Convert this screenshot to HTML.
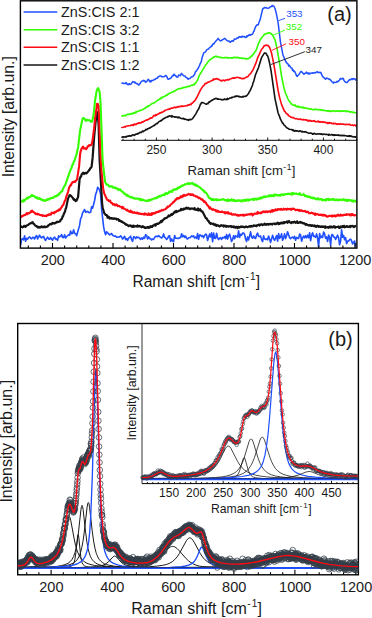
<!DOCTYPE html><html><head><meta charset="utf-8"><style>html,body{margin:0;padding:0;background:#fff;}svg{display:block}</style></head><body>
<svg width="372" height="618" viewBox="0 0 372 618">
<rect width="372" height="618" fill="#fff"/>
<g clip-path="url(#clipa)">
<path d="M20.6,245.1 21.6,239.7 22.6,238.5 23.6,239.9 24.6,235.8 25.6,241.3 26.6,238.3 27.6,239.2 28.6,237.5 29.6,236.9 30.6,238.3 31.6,238.9 32.6,237.3 33.6,237.5 34.6,239.0 35.6,236.5 36.6,235.5 37.6,238.9 39.6,235.2 40.6,237.2 41.6,237.9 42.6,236.8 43.6,236.4 44.6,239.1 45.6,240.5 46.6,238.4 47.6,237.2 48.6,238.9 49.6,239.3 50.6,237.5 51.6,239.1 52.6,240.1 53.6,238.0 54.6,237.0 55.6,239.1 56.6,238.9 57.6,240.3 58.6,235.9 59.6,236.9 60.6,236.4 61.6,234.5 62.6,237.4 63.6,237.6 64.6,234.8 65.6,238.0 66.6,236.5 68.6,234.8 69.6,235.2 70.6,231.0 71.6,233.7 72.6,233.4 73.6,229.7 74.6,233.5 75.6,233.5 76.6,235.7 79.6,225.4 80.6,218.7 81.6,216.9 82.6,212.8 84.6,209.5 85.6,212.1 86.6,211.9 87.6,211.3 88.6,212.4 89.6,212.6 90.6,212.3 91.6,206.7 92.6,208.2 94.6,200.5 95.6,194.5 96.6,191.9 97.6,187.3 98.6,188.4 99.6,190.2 100.6,194.1 101.6,208.8 103.6,226.7 104.6,231.8 105.6,234.7 106.6,231.7 109.6,234.9 111.6,233.5 112.6,235.3 114.6,236.2 115.6,235.9 116.6,237.2 119.6,236.9 120.6,235.9 121.6,237.0 122.6,239.1 124.6,236.3 125.6,239.6 126.6,238.6 127.6,240.5 128.6,238.1 129.6,237.4 130.6,236.2 131.6,239.7 132.6,241.3 133.6,236.9 134.6,237.1 135.6,238.7 136.6,236.8 137.6,237.6 138.6,237.4 139.6,238.2 140.6,239.4 141.6,237.9 142.6,239.2 143.6,237.2 144.6,238.3 145.6,234.6 146.6,235.6 147.6,239.0 148.6,236.8 149.6,238.7 150.6,238.6 151.6,239.9 152.6,239.0 153.6,239.4 154.6,237.5 155.6,236.4 156.6,236.3 157.6,236.7 158.6,235.6 159.6,236.6 161.6,238.0 162.6,236.9 163.6,233.9 164.6,237.3 165.6,237.9 166.6,239.5 167.6,238.5 168.6,236.1 169.6,235.9 170.6,241.4 171.6,238.9 172.6,241.1 173.6,241.7 174.6,235.6 175.6,238.1 178.6,238.4 179.6,237.6 180.6,237.6 181.6,233.8 182.6,236.8 183.6,235.4 184.6,237.4 185.6,236.0 186.6,238.5 187.6,239.0 188.6,237.8 189.6,237.8 190.6,237.3 191.6,235.9 192.6,236.6 193.6,235.8 194.6,238.0 195.6,237.0 196.6,238.5 197.6,233.6 198.6,239.3 199.6,235.0 200.6,235.1 201.6,236.5 202.6,235.5 203.6,237.8 204.6,235.5 205.6,234.2 206.6,234.8 207.6,240.4 209.6,234.0 210.6,237.0 211.6,232.9 212.6,241.7 213.6,233.0 214.6,238.3 215.6,238.4 216.6,233.2 217.6,237.8 218.6,239.6 219.6,238.2 220.6,237.7 221.6,239.5 222.6,237.4 223.6,237.9 224.6,236.7 225.6,238.7 226.6,234.5 227.6,239.1 228.6,235.7 229.6,234.1 231.6,241.5 232.6,239.5 233.6,235.6 234.6,238.8 235.6,235.8 237.6,237.2 238.6,230.9 239.6,237.5 240.6,234.3 241.6,235.2 242.6,233.1 243.6,233.0 244.6,234.5 245.6,239.2 246.6,241.4 247.6,236.9 248.6,239.9 250.6,231.9 251.6,237.4 252.6,238.2 253.6,235.9 254.6,237.8 255.6,238.5 256.6,234.7 257.6,233.1 258.6,236.4 259.6,236.4 260.6,236.1 261.6,239.6 262.6,241.6 263.6,235.9 264.6,238.9 265.6,239.5 266.6,238.9 267.6,239.8 268.6,236.0 270.6,242.4 272.6,235.3 273.6,238.6 274.6,240.4 276.6,235.5 277.6,241.2 278.6,233.6 279.6,238.4 280.6,237.0 281.6,233.8 282.6,240.3 283.6,237.9 284.6,233.8 285.6,238.6 286.6,235.8 287.6,231.8 289.6,237.7 290.6,238.7 291.6,237.4 292.6,237.1 293.6,238.3 294.6,236.4 295.6,240.2 296.6,237.4 298.6,238.5 299.6,234.1 300.6,235.1 301.6,241.2 302.6,237.9 303.6,236.2 304.6,237.9 305.6,235.7 306.6,237.8 307.6,235.2 308.6,237.8 309.6,232.7 310.6,240.6 311.6,235.6 312.6,232.7 313.6,236.4 314.6,236.0 315.6,237.4 316.6,233.9 317.6,238.1 318.6,247.0 319.6,233.5 320.6,237.9 321.6,236.1 322.6,237.5 323.6,232.0 324.6,233.8 325.6,238.3 326.6,236.9 327.6,241.5 328.6,235.1 329.6,237.5 330.6,245.1 331.6,234.9 332.6,234.5 333.6,237.0 334.6,237.0 335.6,239.5 337.6,235.2 338.6,237.9 339.6,244.8 340.6,241.1 341.6,229.9 342.6,237.3 343.6,235.4 344.6,239.7 345.6,237.6 346.6,243.6 347.6,241.1 348.6,241.2 349.6,239.6 350.6,239.3 351.6,240.8 352.6,243.9 354.6,241.0 355.6,246.6" fill="none" stroke="#1f4fff" stroke-width="1.6" stroke-linejoin="round"/>
<path d="M20.6,226.7 21.1,226.9 21.6,226.5 22.6,227.3 23.1,226.8 23.6,226.9 24.1,225.8 24.6,226.5 25.1,225.9 25.6,226.8 27.1,225.3 28.1,225.0 29.1,223.9 31.6,222.7 32.1,223.1 32.6,222.2 33.1,223.4 33.6,223.5 35.1,225.4 36.1,226.1 36.6,226.0 37.6,227.4 38.6,226.8 39.1,227.5 39.6,227.1 40.6,227.4 41.6,226.4 42.6,227.3 43.1,226.8 44.1,227.2 44.6,226.5 45.1,227.2 45.6,227.2 47.1,226.4 47.6,226.6 48.1,225.6 48.6,225.2 49.1,225.2 50.1,223.9 51.1,224.3 51.6,224.2 52.1,223.2 52.6,222.9 53.1,223.3 54.1,223.1 55.1,223.3 55.6,222.7 56.1,222.7 56.6,221.9 57.1,221.7 57.6,222.1 58.1,222.1 59.6,221.5 60.1,221.3 60.6,219.8 61.6,219.2 62.1,218.3 62.6,216.4 63.1,216.3 63.6,214.5 65.1,211.2 65.6,208.9 66.1,208.0 68.1,198.4 69.6,195.1 70.1,195.1 71.1,195.8 71.6,196.7 72.6,197.5 73.6,199.5 74.1,199.2 74.6,200.2 75.1,199.8 75.6,201.1 76.6,200.5 78.1,196.9 79.6,179.2 80.6,176.6 81.1,176.6 81.6,174.4 83.1,172.6 83.6,172.9 84.1,174.0 84.6,173.2 85.6,172.8 86.1,173.5 86.6,173.3 88.6,170.9 89.1,169.9 89.6,169.9 90.1,168.4 91.1,167.7 91.6,166.7 92.6,157.9 94.1,137.3 95.6,121.8 97.1,112.1 97.6,113.2 98.6,124.7 99.6,159.9 102.1,203.1 102.6,207.2 104.1,212.7 104.6,213.7 105.1,213.9 105.6,214.9 106.1,215.1 106.6,215.0 107.1,215.7 107.6,217.7 108.1,216.7 108.6,216.6 109.6,218.5 110.1,218.0 110.6,218.3 111.1,218.1 111.6,218.2 112.1,218.8 113.1,218.3 114.1,218.9 114.6,218.4 115.6,218.8 116.1,218.6 116.6,219.6 117.1,219.3 118.1,219.2 118.6,219.6 119.1,221.0 119.6,220.2 120.1,221.0 120.6,220.9 121.6,221.9 122.1,221.6 123.1,222.6 124.6,223.3 125.6,224.6 126.6,224.3 127.1,225.0 128.1,225.5 128.6,226.2 129.1,225.5 129.6,225.7 130.1,225.5 130.6,225.8 131.1,225.7 131.6,226.6 132.6,225.9 133.1,226.9 133.6,225.6 134.1,226.5 134.6,226.6 135.6,226.2 136.6,226.2 137.1,226.7 137.6,225.5 138.1,226.2 138.6,226.5 139.6,225.8 140.1,226.5 140.6,226.4 141.6,227.3 142.6,226.2 143.1,226.9 143.6,226.7 144.6,227.9 145.1,227.4 145.6,228.1 146.6,227.7 147.1,227.1 147.6,227.5 148.1,226.8 148.6,227.8 149.1,227.3 149.6,227.7 150.6,226.1 151.1,227.0 152.1,227.0 152.6,225.7 153.1,225.5 153.6,225.7 154.6,224.6 155.1,224.5 155.6,225.7 156.1,224.2 156.6,223.8 157.6,223.7 158.1,224.0 160.1,222.3 161.1,220.9 161.6,222.0 162.1,220.6 162.6,220.8 163.1,219.9 164.1,219.2 164.6,218.3 165.1,218.5 167.1,217.6 168.1,216.5 168.6,215.4 169.6,216.2 170.1,215.3 170.6,215.3 171.6,214.0 172.1,214.8 172.6,213.8 173.1,214.0 174.6,211.7 175.1,212.3 176.1,210.9 176.6,212.1 178.6,210.8 179.1,210.8 180.1,210.3 180.6,210.4 181.1,208.9 181.6,210.1 182.1,209.3 182.6,209.7 183.1,209.7 183.6,208.7 184.1,209.3 184.6,209.1 185.1,208.4 186.1,208.6 186.6,207.6 187.1,208.3 187.6,208.6 188.6,207.9 189.6,209.2 190.1,209.1 191.1,208.4 191.6,208.7 192.6,208.5 194.1,209.4 194.6,208.1 195.1,209.5 195.6,209.3 196.1,209.8 196.6,209.4 197.6,210.2 198.1,208.5 198.6,210.4 199.6,209.4 200.1,209.2 200.6,210.7 201.1,210.4 201.6,211.5 202.6,211.7 205.6,217.7 206.1,218.4 206.6,218.3 207.6,220.3 208.1,220.9 208.6,221.1 209.6,222.9 210.1,223.1 210.6,223.9 211.1,223.3 212.6,224.0 213.1,224.1 213.6,223.7 214.1,224.7 214.6,225.1 215.1,225.3 215.6,224.5 216.6,225.9 217.1,225.2 217.6,225.4 218.1,225.3 218.6,225.8 219.1,225.9 219.6,226.5 220.1,225.8 220.6,225.8 221.1,225.2 221.6,225.6 222.6,225.7 223.1,225.4 223.6,226.5 224.1,225.6 224.6,226.2 225.1,225.6 226.1,226.8 226.6,225.9 227.1,226.4 227.6,226.3 228.6,226.6 229.1,226.2 229.6,226.4 231.1,226.1 231.6,227.0 232.1,226.4 232.6,227.0 233.1,227.0 233.6,226.5 234.1,227.3 234.6,226.6 235.6,227.6 236.1,226.8 237.1,226.8 237.6,228.1 238.1,227.1 238.6,226.8 239.1,227.6 239.6,227.2 240.1,227.3 241.1,226.4 241.6,227.0 242.6,226.6 243.6,226.8 244.1,227.4 245.1,227.2 246.1,226.4 246.6,227.0 247.6,227.2 248.1,226.7 249.1,226.7 249.6,226.2 250.1,226.2 250.6,226.7 251.1,225.9 252.1,226.5 253.1,226.2 253.6,225.5 254.1,225.8 254.6,225.6 255.1,225.9 256.1,225.4 256.6,226.1 257.1,225.5 258.1,224.8 258.6,225.0 259.1,224.7 259.6,225.5 260.6,224.6 261.6,224.2 262.6,225.1 263.6,224.5 264.1,224.5 264.6,223.7 265.1,224.7 265.6,224.2 266.1,224.8 266.6,224.2 267.1,224.0 267.6,224.3 268.1,223.9 268.6,224.7 269.1,224.2 270.1,224.1 270.6,223.8 271.1,224.1 271.6,224.0 272.1,224.6 272.6,223.8 273.1,223.9 273.6,223.6 274.6,223.6 275.1,224.2 275.6,223.6 276.1,224.0 276.6,223.4 277.1,223.3 277.6,222.7 278.1,223.7 278.6,224.2 279.1,223.2 279.6,223.8 280.6,222.9 281.1,223.4 281.6,222.7 282.1,222.8 282.6,223.4 283.6,222.2 284.1,223.2 284.6,222.1 285.1,222.4 286.1,222.2 287.1,221.5 287.6,222.8 288.1,221.7 288.6,221.6 289.1,221.0 289.6,222.0 290.1,222.5 290.6,222.5 291.1,223.1 292.1,222.1 292.6,222.0 293.1,222.6 293.6,222.0 294.1,222.1 294.6,221.7 295.6,222.9 296.1,222.1 296.6,222.3 297.1,221.3 297.6,222.8 298.1,222.4 298.6,222.9 300.1,221.9 300.6,222.7 301.6,222.3 302.1,222.8 302.6,222.8 303.1,223.5 304.1,223.1 304.6,223.7 305.1,223.8 305.6,224.8 306.1,224.2 306.6,224.1 307.1,224.8 308.6,225.4 309.1,225.0 309.6,225.5 310.1,225.6 310.6,225.2 311.6,225.9 312.1,225.2 314.1,226.2 314.6,225.5 315.1,226.2 316.1,226.8 316.6,226.0 317.6,225.7 318.1,226.5 318.6,226.9 319.1,226.1 319.6,226.6 320.6,226.9 321.1,226.4 321.6,226.9 322.6,226.4 323.1,226.9 323.6,227.0 324.1,226.5 325.1,227.8 325.6,226.5 326.1,227.4 326.6,227.5 327.1,227.2 327.6,227.4 328.1,227.2 328.6,227.8 329.1,226.9 329.6,227.2 330.1,226.5 330.6,227.4 331.1,227.4 331.6,226.6 332.6,227.4 334.1,226.1 335.1,227.8 335.6,226.9 336.1,227.2 336.6,227.1 337.1,226.9 338.1,226.9 338.6,226.5 339.1,227.8 339.6,227.9 340.1,226.9 340.6,227.5 341.1,226.4 342.1,227.1 342.6,226.2 343.1,226.1 343.6,226.8 344.1,225.8 344.6,227.3 345.6,226.7 346.1,226.8 346.6,226.2 347.1,226.2 347.6,226.9 348.1,226.9 349.6,226.3 350.1,227.1 350.6,225.9 351.6,226.3 352.1,225.9 353.1,226.1 353.6,226.9 354.1,227.2 355.1,225.9 356.1,226.4" fill="none" stroke="#141414" stroke-width="2.2" stroke-linejoin="round"/>
<path d="M20.6,216.8 21.1,217.2 22.1,215.9 22.6,216.1 23.6,215.3 24.1,215.1 24.6,215.3 25.1,215.0 25.6,214.3 26.1,214.1 26.6,213.2 27.1,214.3 27.6,213.3 28.1,213.6 28.6,213.0 29.1,213.3 30.1,212.2 30.6,212.4 31.1,211.2 31.6,211.9 32.1,210.6 33.1,211.9 34.6,212.7 35.6,214.0 36.1,214.1 37.1,213.6 37.6,214.5 38.1,213.8 38.6,214.3 39.1,214.3 39.6,215.0 41.1,215.1 41.6,214.9 42.6,215.9 43.1,215.4 43.6,215.8 44.1,215.5 44.6,216.0 45.6,215.9 46.1,215.7 46.6,216.1 47.1,215.2 48.1,214.8 48.6,215.1 49.1,214.4 49.6,214.3 50.1,214.7 50.6,214.7 51.1,214.2 51.6,212.7 52.1,213.2 53.1,212.6 53.6,212.6 54.1,213.3 54.6,212.2 55.1,211.8 55.6,212.1 57.1,210.9 58.1,210.8 58.6,209.6 59.1,209.4 59.6,210.1 60.1,209.7 61.1,207.7 61.6,207.3 62.1,206.1 62.6,205.5 63.1,205.3 64.6,201.3 65.6,199.6 66.1,197.1 68.1,191.8 69.1,187.7 70.1,185.8 70.6,184.9 71.1,185.2 71.6,183.2 72.1,183.0 72.6,182.1 73.1,182.3 74.6,181.5 75.1,181.9 75.6,181.0 76.1,180.8 77.1,179.1 79.1,166.4 80.1,154.2 80.6,151.4 81.6,148.7 83.1,146.5 83.6,148.5 84.1,148.1 85.6,148.4 86.1,149.2 87.1,147.9 87.6,146.3 88.6,146.2 89.1,145.1 89.6,145.4 90.1,145.0 90.6,145.3 91.1,145.2 91.6,144.5 92.6,139.9 94.1,128.4 95.1,118.2 97.1,103.7 98.1,104.2 98.6,106.5 100.6,155.5 101.6,172.4 103.1,188.2 104.1,193.1 107.1,199.7 107.6,199.7 108.1,200.1 108.6,200.9 110.1,200.6 110.6,202.5 111.1,202.6 111.6,203.1 112.1,203.0 113.1,204.6 114.1,204.0 115.1,205.5 116.1,204.3 117.1,205.1 117.6,206.1 119.1,205.8 119.6,206.4 121.6,207.0 122.1,208.3 122.6,206.8 123.1,208.1 123.6,207.9 124.1,208.8 124.6,208.7 126.6,210.3 127.1,209.6 127.6,210.7 128.1,210.5 129.1,211.6 129.6,211.6 130.1,212.1 130.6,210.6 131.6,212.2 132.1,211.5 133.1,212.9 133.6,212.7 134.1,212.1 134.6,212.8 135.1,213.0 135.6,212.9 136.6,213.1 137.1,212.6 137.6,213.3 138.1,213.0 138.6,213.6 139.1,213.7 139.6,213.3 140.1,214.0 141.1,213.8 141.6,214.2 142.1,213.9 142.6,214.0 143.6,214.2 144.1,214.7 144.6,213.4 145.1,214.3 145.6,213.6 146.6,214.6 147.1,214.5 147.6,214.9 148.1,214.6 148.6,213.3 149.6,215.0 150.1,214.9 151.1,213.5 151.6,214.9 152.1,213.0 152.6,213.9 153.6,213.6 154.1,212.8 155.1,213.4 156.1,212.1 156.6,212.5 158.1,211.6 158.6,212.0 159.6,210.9 160.1,211.3 161.1,210.9 161.6,209.9 162.6,210.4 163.1,210.3 164.1,209.5 165.6,209.3 166.6,207.7 167.1,207.8 167.6,206.5 168.1,207.0 168.6,206.4 169.6,206.1 170.6,204.5 171.1,204.5 171.6,203.8 172.6,203.2 173.1,202.1 173.6,202.2 174.1,201.9 174.6,200.7 175.1,200.6 175.6,199.3 176.6,199.5 177.1,198.2 177.6,198.4 178.1,198.0 178.6,198.6 179.1,198.4 179.6,197.5 180.1,197.6 180.6,196.3 181.1,197.4 181.6,197.0 182.1,197.2 182.6,195.5 183.1,196.4 183.6,195.9 184.1,194.8 184.6,195.4 185.6,195.6 186.6,194.7 187.1,195.0 188.6,193.9 189.1,194.3 189.6,194.3 190.1,194.9 190.6,194.1 191.1,195.0 191.6,194.6 192.1,195.1 192.6,194.4 193.6,195.1 194.1,195.8 194.6,195.7 196.1,196.7 197.1,196.5 197.6,197.1 198.1,197.2 198.6,198.1 199.1,197.6 200.1,198.1 200.6,199.0 201.6,199.6 202.1,199.2 202.6,199.5 203.1,200.7 204.1,202.0 204.6,201.2 205.1,202.3 205.6,202.2 207.1,205.1 207.6,205.2 208.1,205.7 209.6,208.6 210.1,207.3 210.6,208.2 211.1,208.4 211.6,209.3 212.1,209.3 212.6,210.0 213.1,209.2 213.6,209.8 214.6,209.7 215.1,210.3 215.6,210.0 216.1,211.5 217.1,210.5 217.6,210.8 218.1,211.9 218.6,211.1 219.1,211.7 220.1,212.1 221.6,211.7 222.1,211.3 222.6,212.1 223.1,212.3 224.1,212.4 224.6,212.0 225.1,213.5 225.6,212.5 226.1,212.4 227.6,213.4 228.1,212.2 228.6,213.5 229.1,213.1 230.1,213.9 230.6,213.9 231.1,213.4 231.6,213.8 232.1,214.7 233.6,214.3 234.1,214.8 235.6,214.3 236.1,215.0 236.6,215.0 237.1,215.4 237.6,214.8 238.1,215.7 238.6,215.0 239.1,215.7 240.6,214.8 241.1,215.1 241.6,215.1 242.1,215.5 243.1,214.5 244.1,215.8 244.6,215.6 245.1,214.7 246.1,215.0 246.6,214.5 247.6,214.6 248.1,214.2 249.6,214.5 250.1,213.9 250.6,214.4 251.1,213.9 252.1,213.7 252.6,215.6 253.1,214.5 253.6,214.4 254.6,213.6 256.6,213.6 257.1,213.8 257.6,211.9 258.6,213.2 259.1,212.7 259.6,212.7 260.1,213.3 260.6,212.7 261.1,213.2 261.6,212.4 262.1,212.5 263.1,211.4 263.6,212.0 264.1,212.1 265.1,211.3 265.6,212.1 267.1,211.3 267.6,212.1 269.1,211.2 269.6,211.3 270.6,212.1 271.1,210.9 272.1,210.0 272.6,211.8 273.1,210.1 273.6,210.8 274.1,210.6 274.6,210.8 275.1,209.8 275.6,209.4 276.1,210.1 277.1,210.3 277.6,209.1 278.1,209.5 278.6,209.5 279.1,209.0 280.1,209.8 281.1,208.8 281.6,209.5 282.1,209.7 283.1,209.6 283.6,208.6 284.1,209.4 284.6,209.4 285.1,209.0 285.6,209.1 286.1,208.8 286.6,209.6 287.6,208.7 288.1,209.1 289.1,209.3 289.6,208.7 290.1,208.7 291.1,209.9 292.1,208.5 292.6,209.2 293.6,208.5 295.6,210.1 296.6,210.0 297.1,209.6 298.1,210.0 298.6,210.6 299.1,209.9 299.6,210.0 300.1,210.9 301.1,210.3 303.1,211.3 304.6,211.1 305.1,210.8 306.1,212.2 307.1,211.7 307.6,212.0 308.1,211.9 309.1,213.3 310.6,213.2 311.6,212.6 312.1,213.2 312.6,213.1 313.1,213.7 314.1,213.4 314.6,213.9 315.1,215.0 315.6,213.6 316.1,214.5 317.6,214.1 319.1,215.0 320.1,214.9 320.6,214.6 321.1,215.1 322.1,214.7 322.6,215.6 323.1,215.0 323.6,214.9 324.1,215.5 324.6,214.8 325.1,215.6 325.6,215.9 326.1,215.6 326.6,215.9 327.1,216.7 328.6,216.2 329.1,215.8 331.1,216.0 331.6,215.6 332.1,216.6 332.6,215.5 333.6,216.2 334.6,215.4 335.1,215.7 335.6,216.4 336.6,215.4 337.1,215.7 338.1,214.6 338.6,215.4 339.6,215.7 340.6,214.6 341.1,215.6 341.6,215.1 342.6,215.5 344.1,214.7 345.1,214.9 345.6,214.7 346.1,215.0 346.6,214.1 347.6,214.8 349.1,214.3 350.1,215.4 350.6,214.4 351.1,215.3 351.6,214.2 352.1,214.9 352.6,214.1 353.1,215.1 354.1,215.1 354.6,215.5 356.1,214.9" fill="none" stroke="#ff0a14" stroke-width="2.1" stroke-linejoin="round"/>
<path d="M20.6,202.2 21.1,201.5 22.1,201.5 22.6,200.5 23.1,201.6 23.6,200.0 24.1,200.2 24.6,200.9 25.1,199.5 26.1,198.8 26.6,198.8 27.1,197.5 28.1,198.4 29.1,197.0 29.6,197.0 31.1,196.2 31.6,195.1 32.1,195.8 32.6,195.2 33.1,196.0 34.1,196.0 34.6,196.7 35.1,196.6 35.6,197.7 36.1,197.4 36.6,198.0 37.1,197.3 37.6,198.6 38.1,198.0 38.6,198.8 39.1,198.7 39.6,198.1 40.1,198.9 40.6,198.7 41.6,200.0 42.1,199.9 42.6,200.3 43.1,199.6 43.6,200.3 44.6,200.9 45.1,200.3 45.6,200.7 46.1,200.5 46.6,199.6 47.1,199.6 47.6,200.0 48.1,199.1 48.6,198.8 49.1,199.4 50.1,198.6 50.6,198.5 51.6,197.9 52.1,197.7 53.1,198.0 53.6,197.1 54.6,196.7 55.1,196.0 55.6,196.4 56.1,196.4 56.6,195.4 57.1,195.8 57.6,195.0 58.1,195.3 58.6,195.0 59.6,193.0 60.1,193.2 61.1,191.7 62.1,191.3 63.6,187.4 64.1,187.0 64.6,185.7 65.1,185.4 70.6,169.6 71.1,169.0 72.6,164.4 73.1,164.2 73.6,162.2 74.1,161.0 74.6,160.4 75.6,156.8 76.1,155.9 78.1,147.4 80.1,130.4 82.6,118.4 83.1,117.9 83.6,118.5 84.1,118.3 84.6,118.7 85.6,120.7 86.1,120.4 86.6,120.6 87.1,119.6 87.6,120.2 89.1,120.1 89.6,120.7 90.1,120.5 90.6,121.7 91.1,121.2 91.6,121.7 92.1,121.6 93.6,114.6 95.1,100.3 96.6,91.0 97.1,89.6 98.1,88.2 99.6,91.7 100.6,103.5 102.6,160.7 105.1,182.1 106.6,184.7 107.1,184.6 108.1,184.8 109.1,186.5 109.6,186.6 110.6,186.1 111.1,186.5 111.6,186.2 112.1,186.3 112.6,187.5 113.1,187.1 113.6,187.4 114.1,187.3 114.6,188.1 115.1,188.3 115.6,187.6 116.6,188.1 117.1,189.1 117.6,189.3 118.1,188.9 118.6,190.2 119.1,189.5 120.1,189.2 120.6,190.3 121.1,190.8 121.6,190.8 122.6,192.2 123.1,192.1 124.1,193.6 125.1,193.5 126.6,195.7 127.1,195.0 127.6,194.9 128.1,196.0 128.6,196.3 129.1,196.3 129.6,196.9 130.1,197.0 130.6,197.5 131.1,196.8 132.1,197.5 132.6,197.4 133.1,198.2 134.1,198.0 134.6,198.7 135.1,198.4 135.6,198.7 136.6,198.5 137.6,198.7 138.1,198.4 139.1,199.4 140.1,198.8 140.6,200.3 141.1,199.0 141.6,199.8 142.6,200.3 143.1,199.6 143.6,200.0 144.1,200.0 144.6,200.7 145.1,200.5 146.1,200.7 146.6,201.3 147.1,200.8 147.6,200.9 148.1,200.1 148.6,200.7 149.1,199.9 149.6,200.7 151.1,199.4 151.6,199.7 152.1,199.6 152.6,199.1 154.1,198.5 155.1,198.3 155.6,198.5 156.6,197.3 157.1,197.9 158.1,196.7 158.6,197.0 159.1,196.2 159.6,195.9 160.1,195.7 160.6,196.5 161.1,195.7 162.6,194.9 163.6,194.9 164.1,195.2 164.6,193.9 165.1,194.6 165.6,194.1 166.1,192.9 166.6,193.8 167.1,193.9 168.6,192.6 169.1,191.6 169.6,192.3 170.6,191.3 171.1,191.5 171.6,191.0 172.1,191.9 172.6,190.3 173.1,190.2 173.6,189.4 174.1,189.9 174.6,189.9 175.6,189.1 176.1,189.4 176.6,188.9 177.1,189.1 178.1,187.4 178.6,187.8 179.1,187.2 179.6,187.7 180.1,186.8 181.1,186.5 181.6,185.6 182.6,186.0 183.1,185.2 184.1,184.9 184.6,184.4 185.6,184.5 186.1,184.0 187.1,183.7 188.1,183.0 188.6,184.1 189.6,183.2 190.1,183.6 191.1,183.7 192.1,182.9 192.6,183.2 193.6,184.5 194.1,184.8 194.6,184.3 195.1,184.4 196.1,185.8 196.6,184.9 197.1,185.8 198.1,186.2 199.6,187.4 200.1,187.2 201.1,188.8 203.1,190.2 203.6,191.3 204.1,190.9 205.1,192.4 206.1,192.7 208.1,196.0 208.6,197.3 209.6,198.1 210.1,198.1 210.6,198.9 211.1,199.1 211.6,199.9 212.1,198.9 213.1,200.1 213.6,199.2 214.1,199.9 214.6,199.9 215.1,199.8 215.6,199.4 216.1,199.8 216.6,199.2 217.1,200.3 217.6,199.6 218.1,199.9 220.1,200.0 220.6,199.7 221.1,199.8 221.6,199.4 223.6,199.4 224.6,200.2 225.6,199.9 226.6,200.3 227.1,201.2 227.6,199.6 228.1,200.3 228.6,199.7 229.1,200.8 229.6,200.2 231.1,200.6 231.6,199.2 232.6,200.5 233.1,199.9 233.6,200.7 234.1,201.0 234.6,200.0 236.1,201.3 237.1,200.9 237.6,200.2 238.6,200.7 239.1,200.4 239.6,200.8 240.6,200.4 241.1,201.4 241.6,200.5 242.1,201.3 242.6,200.4 243.1,200.5 243.6,200.0 244.1,200.2 244.6,201.0 245.6,199.5 246.1,200.8 246.6,199.8 247.6,200.1 248.1,199.3 248.6,200.6 249.1,200.4 249.6,199.7 250.1,199.9 251.1,199.4 251.6,199.5 252.1,199.0 252.6,199.3 253.1,199.2 253.6,200.1 254.1,198.7 254.6,199.7 256.1,198.7 256.6,199.6 257.1,199.3 257.6,198.6 258.1,198.5 258.6,198.5 259.1,199.1 259.6,197.9 260.6,198.5 261.1,197.4 262.1,198.2 262.6,197.4 263.1,197.4 263.6,196.7 264.1,197.3 264.6,196.6 265.6,196.9 266.1,196.4 266.6,196.8 267.6,196.4 268.1,196.5 269.1,195.1 269.6,196.2 270.1,196.1 271.1,195.3 271.6,196.1 272.1,195.4 273.1,195.3 273.6,196.4 274.6,194.4 275.1,195.3 276.1,194.6 276.6,195.3 277.1,195.0 277.6,195.5 278.1,195.0 278.6,195.5 279.6,195.0 280.6,195.6 281.6,194.2 282.1,194.7 282.6,194.7 283.1,195.1 283.6,194.4 284.1,194.9 284.6,194.3 286.6,194.0 287.1,194.2 288.1,193.5 288.6,193.9 289.6,193.7 290.1,194.0 290.6,194.0 291.1,194.5 291.6,193.3 292.1,194.6 292.6,192.9 293.1,193.2 293.6,194.0 294.1,193.5 294.6,193.8 296.1,193.4 297.6,194.2 298.6,193.9 299.1,194.5 299.6,193.2 300.6,194.7 302.1,195.0 303.1,194.8 303.6,194.1 305.1,196.2 305.6,195.6 306.6,196.4 307.1,196.0 308.1,197.0 308.6,196.8 309.1,197.1 309.6,196.5 311.1,198.1 311.6,197.5 312.1,197.5 312.6,197.7 313.1,198.4 313.6,197.7 314.1,198.4 314.6,198.3 315.1,198.6 315.6,198.4 316.6,199.4 317.1,198.9 317.6,198.9 318.1,198.1 318.6,199.4 319.1,199.0 319.6,199.5 321.6,198.9 322.1,200.3 322.6,199.9 324.1,200.1 324.6,199.9 325.1,200.0 325.6,200.6 326.1,199.0 326.6,199.8 327.1,199.5 327.6,199.7 328.1,198.7 329.1,200.1 329.6,199.3 330.1,200.0 330.6,199.4 331.1,199.7 331.6,199.2 332.1,199.5 332.6,199.2 333.1,200.0 333.6,199.1 334.1,199.9 334.6,199.6 335.1,199.7 335.6,200.3 336.1,199.7 336.6,199.5 337.6,200.1 338.1,199.6 338.6,200.5 339.1,199.9 340.1,199.5 341.6,200.2 342.6,199.6 343.1,199.8 343.6,199.1 344.1,200.4 345.1,199.9 345.6,200.3 346.1,199.6 346.6,200.8 347.1,200.1 347.6,200.0 348.1,201.0 348.6,199.9 349.1,200.5 349.6,200.0 351.1,200.3 351.6,201.1 352.1,201.0 352.6,200.4 353.1,201.7 353.6,200.8 354.6,201.1 355.1,200.6 355.6,201.6 356.1,200.8" fill="none" stroke="#33ff00" stroke-width="2.1" stroke-linejoin="round"/>
</g>
<defs><clipPath id="clipa"><rect x="20.4" y="0.8" width="336.5" height="247.29999999999998"/></clipPath><clipPath id="clipb"><rect x="17.7" y="323.5" width="340.7" height="251.3"/></clipPath></defs>
<path d="M121.5,83.5 122.7,83.0 123.9,83.6 125.1,83.5 125.7,82.6 126.3,82.8 126.9,84.3 127.5,84.1 128.1,84.8 128.7,84.4 129.3,83.5 129.9,84.6 131.1,84.1 131.7,83.0 132.9,81.6 133.5,81.9 134.1,81.8 134.7,82.9 135.3,82.3 135.9,83.3 136.5,83.7 137.1,83.5 137.7,83.7 138.3,85.0 138.9,84.9 140.1,83.6 140.7,82.2 141.9,81.0 143.1,81.1 143.7,80.3 144.3,80.9 144.9,80.9 145.5,82.3 146.7,81.7 147.9,79.6 148.5,79.3 149.7,81.8 150.3,80.9 150.9,81.9 151.5,80.4 152.1,80.6 153.3,80.4 153.9,79.6 155.1,79.4 156.3,78.2 156.9,78.4 157.5,78.0 158.1,77.0 159.9,75.9 161.1,75.9 161.7,76.8 163.5,76.8 164.7,76.5 165.3,75.4 165.9,75.4 167.1,77.0 167.7,78.9 168.3,79.3 168.9,79.1 169.5,78.6 170.1,78.6 170.7,78.3 171.9,76.8 172.5,75.5 173.1,75.8 173.7,74.6 174.3,74.2 174.9,75.4 175.5,75.9 176.1,75.9 176.7,77.1 177.9,77.1 178.5,75.1 179.1,75.3 179.7,75.2 180.3,75.7 181.5,73.4 183.9,75.9 185.1,76.0 185.7,77.3 186.3,77.4 186.9,77.8 188.1,79.3 188.7,78.5 189.9,78.5 191.7,76.7 192.9,76.5 194.7,74.3 195.3,72.0 196.5,70.9 197.7,68.9 198.3,68.3 198.9,66.6 199.5,65.8 200.1,63.8 201.3,61.6 201.9,58.3 203.7,52.9 205.5,51.8 206.7,49.9 207.9,49.2 208.5,49.1 209.7,47.5 210.3,47.0 210.9,47.0 211.5,45.7 212.1,46.0 212.7,44.1 213.3,43.8 213.9,43.9 215.1,41.8 215.7,41.5 216.3,40.4 216.9,40.2 218.1,38.4 219.9,40.6 220.5,40.9 221.1,40.4 221.7,40.4 222.9,39.4 223.5,39.3 224.7,38.2 225.9,39.6 227.7,41.0 228.3,40.9 228.9,41.3 229.5,41.2 230.1,42.3 231.9,40.8 232.5,40.8 233.1,41.3 233.7,40.5 234.3,39.0 234.9,39.2 236.1,38.9 237.3,37.9 237.9,38.2 239.1,36.6 239.7,37.1 240.3,36.8 240.9,37.3 241.5,37.2 242.1,36.1 242.7,36.7 243.3,36.9 243.9,36.5 244.5,36.4 245.1,37.5 245.7,37.6 246.3,37.1 246.9,35.7 247.5,36.4 248.7,35.1 249.3,35.2 249.9,34.6 250.5,35.2 251.7,34.3 252.3,34.3 252.9,33.4 253.5,31.7 254.1,31.1 255.3,27.3 255.9,26.2 256.5,25.7 257.1,24.7 257.7,25.1 258.3,24.6 258.9,22.5 260.1,19.8 262.5,9.5 263.1,8.5 263.7,8.4 264.3,7.5 265.5,7.8 266.1,7.5 267.3,8.3 269.1,8.1 270.3,6.8 271.5,6.5 272.1,5.5 273.9,6.2 275.1,8.7 276.3,13.4 278.1,22.7 280.5,42.3 282.9,54.7 285.9,61.9 286.5,62.4 287.1,63.4 287.7,63.5 288.9,66.1 289.5,65.3 290.7,67.8 291.9,68.0 292.5,70.2 293.1,69.7 293.7,71.5 294.3,71.1 294.9,71.7 296.7,76.1 297.3,76.4 297.9,75.4 298.5,75.1 300.3,72.3 300.9,71.6 301.5,71.4 303.9,74.3 304.5,73.5 305.7,73.2 306.3,72.1 306.9,72.6 307.5,73.7 308.1,72.8 308.7,74.0 309.3,73.2 309.9,74.0 310.5,73.3 311.7,73.1 312.3,72.8 312.9,73.3 314.7,72.5 315.3,73.0 317.1,71.6 317.7,72.4 318.9,72.3 320.1,72.8 320.7,72.4 322.5,76.4 325.5,79.3 326.1,78.2 326.7,78.1 327.3,78.6 327.9,78.5 329.1,79.4 329.7,79.1 332.1,81.9 332.7,82.1 333.3,83.1 333.9,82.1 334.5,82.4 336.3,82.2 336.9,81.3 337.5,82.0 339.3,80.4 340.5,78.3 341.1,79.0 342.3,78.7 342.9,78.2 343.5,79.0 344.1,80.8 345.3,82.0 345.9,82.1 346.5,82.6 347.1,82.6 348.3,80.8 348.9,80.5 349.5,79.6 350.7,79.7 351.3,78.9 351.9,78.8 352.5,79.4 353.1,78.6 353.7,79.0 354.9,78.7 355.5,79.8 356.1,80.3" fill="none" stroke="#1f4fff" stroke-width="1.5" stroke-linejoin="round"/>
<path d="M121.5,115.5 122.0,116.1 122.5,116.1 123.5,115.4 125.0,115.9 125.5,115.4 126.0,115.5 126.5,114.9 127.5,114.3 129.0,114.4 129.5,113.9 130.0,114.3 131.5,113.5 132.0,114.1 133.0,113.0 133.5,112.8 134.0,113.4 134.5,112.6 135.0,112.9 135.5,112.7 136.0,111.6 136.5,112.3 137.5,111.3 138.5,111.3 139.5,110.8 140.0,110.3 140.5,110.6 141.5,110.3 142.0,109.8 143.0,109.6 143.5,109.0 145.5,108.0 146.0,107.1 147.0,107.1 147.5,106.1 148.0,106.0 148.5,106.4 149.0,105.5 150.0,105.2 151.0,104.2 152.5,103.4 153.5,103.3 154.0,102.7 154.5,102.7 156.5,101.0 157.5,100.6 158.0,99.9 158.5,100.0 159.5,99.3 160.5,98.0 161.0,98.7 162.0,97.2 162.5,97.6 163.0,96.9 163.5,97.0 164.0,96.5 164.5,96.5 166.0,95.4 166.5,95.4 167.0,94.5 167.5,94.9 168.5,93.9 169.5,93.3 170.5,93.1 171.0,92.5 171.5,92.5 172.5,92.0 173.0,92.0 173.5,91.3 174.5,91.5 175.0,90.6 176.5,90.1 178.0,88.9 179.5,88.6 180.5,88.8 181.5,88.0 182.0,88.2 182.5,88.1 183.0,87.6 183.5,87.8 184.0,87.4 185.0,87.2 185.5,87.5 186.0,86.9 188.0,86.8 188.5,86.1 189.0,86.5 189.5,86.1 190.5,86.0 191.0,85.4 192.0,85.1 193.0,85.2 194.0,84.1 194.5,84.7 195.0,83.5 195.5,83.2 196.0,82.6 197.5,80.1 199.5,75.0 200.0,74.5 200.5,73.3 202.0,71.2 202.5,69.8 203.5,68.8 204.0,67.6 206.0,64.4 206.5,64.1 207.5,62.4 210.0,59.4 210.5,59.6 211.0,58.9 211.5,58.7 212.0,58.7 212.5,57.8 213.0,57.8 213.5,57.0 214.5,57.1 215.5,56.3 216.0,56.2 216.5,56.7 217.0,56.4 217.5,56.9 218.5,56.9 219.5,57.4 220.5,57.2 221.0,57.6 222.0,57.5 223.5,57.9 224.5,57.6 225.5,57.8 226.0,57.5 227.5,57.6 228.0,57.7 228.5,58.4 229.0,57.7 231.0,57.8 231.5,58.2 232.0,57.7 232.5,58.1 233.5,57.4 235.0,57.3 235.5,57.8 236.5,57.6 237.0,57.2 237.5,57.6 238.0,57.4 238.5,58.2 239.0,57.7 241.5,58.1 242.0,58.5 242.5,58.2 243.5,58.6 244.5,58.3 245.5,58.7 246.0,58.6 246.5,59.1 248.0,58.5 248.5,58.7 250.0,57.2 250.5,57.5 251.0,56.4 251.5,55.9 252.0,55.9 253.0,54.6 253.5,54.4 254.0,53.1 254.5,52.7 255.0,51.7 255.5,51.6 256.0,50.2 256.5,49.5 258.5,43.2 259.5,41.7 260.5,38.9 261.0,38.9 262.0,37.0 263.5,35.8 264.0,34.6 264.5,34.6 265.0,34.0 265.5,34.2 266.5,33.3 267.5,33.5 268.0,32.9 268.5,32.9 270.5,33.1 272.0,34.6 272.5,34.8 275.0,39.8 277.0,48.5 279.5,62.8 281.5,76.0 284.0,88.1 285.5,93.3 286.5,95.2 288.0,99.0 289.0,100.9 289.5,101.2 290.0,102.4 290.5,102.5 291.0,103.5 291.5,103.8 292.5,104.9 293.5,105.3 294.0,105.1 294.5,105.3 295.0,104.9 295.5,106.2 296.5,106.4 297.0,106.0 297.5,107.1 298.0,106.4 298.5,106.9 299.0,106.4 300.0,107.4 300.5,107.4 301.0,107.0 302.0,107.7 302.5,107.1 303.0,107.8 303.5,107.3 304.0,108.0 304.5,107.8 305.0,108.3 305.5,108.0 307.5,108.5 308.0,108.4 309.0,109.0 309.5,108.9 310.0,109.3 311.0,109.3 311.5,108.9 312.5,109.6 314.0,109.7 314.5,109.0 315.0,109.5 316.5,109.2 317.0,109.5 317.5,109.5 318.0,110.1 319.5,109.4 320.5,109.8 321.0,109.7 321.5,110.5 322.0,109.8 323.5,110.4 324.0,110.2 325.5,110.8 326.5,110.8 327.5,111.4 328.0,110.7 329.0,111.4 329.5,110.7 330.0,111.4 330.5,111.4 331.0,111.0 332.0,111.4 332.5,111.0 333.0,111.1 333.5,110.8 335.0,111.0 335.5,111.4 336.5,110.7 337.0,111.2 339.5,110.9 340.0,111.4 342.5,110.9 343.5,111.2 344.0,110.8 345.0,110.9 346.0,111.6 346.5,111.1 347.5,111.1 348.0,111.5 349.5,111.4 350.0,112.3 350.5,111.8 351.5,111.9 352.5,112.4 353.0,112.3 353.5,111.8 354.0,112.7 356.0,112.8 356.5,113.2" fill="none" stroke="#33ff00" stroke-width="1.6" stroke-linejoin="round"/>
<path d="M121.5,126.9 122.0,127.5 123.5,127.2 124.5,126.7 125.0,126.6 125.5,127.0 126.0,126.3 130.5,125.5 131.0,125.0 132.0,125.4 132.5,124.8 133.0,124.8 133.5,125.4 134.0,124.3 134.5,124.0 135.5,124.6 136.0,124.5 136.5,123.6 137.0,123.9 138.5,122.8 139.0,123.4 139.5,122.8 140.0,122.9 140.5,122.7 141.0,123.0 142.0,121.9 143.0,122.1 143.5,121.3 144.5,121.2 145.0,120.6 146.0,120.1 146.5,120.3 147.0,119.9 147.5,120.0 149.0,118.9 149.5,118.9 150.5,117.9 151.0,118.2 151.5,117.8 152.0,117.9 154.0,115.3 155.0,115.9 156.0,114.6 156.5,115.1 157.0,114.6 159.0,113.8 159.5,112.9 160.0,113.1 160.5,112.7 161.0,112.9 161.5,112.1 162.0,112.5 162.5,112.0 163.0,112.0 163.5,111.2 164.0,111.3 164.5,111.0 165.0,110.3 165.5,110.4 167.5,109.4 168.5,109.5 169.5,108.6 170.0,109.1 170.5,108.6 172.0,108.1 172.5,108.2 174.5,107.1 175.5,107.7 176.0,107.2 176.5,107.5 178.0,106.5 179.0,107.0 180.0,106.2 180.5,106.2 181.0,106.6 181.5,106.1 182.0,106.4 182.5,105.9 183.5,106.4 185.5,105.7 187.0,105.8 188.0,104.9 189.0,105.1 189.5,104.8 190.0,104.3 191.0,104.7 191.5,103.4 192.5,103.2 193.0,102.3 195.5,99.9 196.0,98.4 196.5,98.2 200.5,89.9 203.0,86.1 204.5,84.8 205.0,83.6 206.5,83.4 207.0,83.1 207.5,82.2 209.0,82.1 211.0,80.8 212.0,80.6 212.5,80.0 213.0,80.1 213.5,78.9 214.5,79.5 216.5,78.5 217.5,79.5 218.0,78.9 220.5,80.6 221.0,80.3 221.5,80.9 223.5,80.1 224.5,80.9 225.5,80.0 226.0,80.2 227.5,79.5 228.5,80.0 230.0,79.0 231.0,78.8 231.5,78.4 232.5,78.1 233.0,78.4 233.5,77.8 234.0,78.1 235.5,77.9 236.0,77.5 238.0,77.4 239.5,77.8 240.0,78.2 240.5,78.0 241.5,78.7 242.0,78.8 242.5,78.4 243.0,78.6 243.5,78.3 244.0,78.7 245.5,77.6 248.0,76.5 249.0,75.0 250.5,73.7 251.5,72.3 252.0,71.0 252.5,71.0 256.0,62.9 257.5,58.2 261.5,49.5 263.0,47.8 264.0,45.9 264.5,45.5 265.0,45.8 266.0,45.1 267.0,45.5 268.0,45.3 268.5,46.2 269.0,46.5 270.0,48.3 271.5,52.9 274.0,65.2 278.0,90.0 279.5,97.1 281.5,104.4 284.5,111.4 285.0,111.4 286.0,113.2 287.0,113.8 287.5,114.6 288.0,114.4 288.5,115.6 289.5,116.3 290.0,116.4 290.5,117.2 291.5,117.3 292.0,117.6 292.5,117.5 293.0,117.8 293.5,117.6 294.5,118.4 295.5,118.7 296.0,118.5 297.0,118.7 298.5,119.4 299.5,119.1 300.0,119.4 301.0,119.0 301.5,119.5 303.0,119.9 303.5,119.4 305.5,120.1 306.0,119.7 307.5,120.8 308.0,120.1 308.5,121.0 309.5,120.4 310.0,121.1 310.5,120.6 311.0,120.6 311.5,121.2 312.0,121.3 313.5,120.8 314.0,121.3 314.5,120.7 315.5,121.7 316.5,121.8 317.5,121.3 318.0,121.8 318.5,121.2 319.0,121.9 319.5,122.1 320.0,121.6 320.5,122.2 321.5,122.0 322.0,121.6 323.0,122.4 323.5,121.8 324.0,122.2 325.0,122.0 325.5,122.8 326.0,122.6 327.0,122.9 327.5,122.5 328.0,123.6 328.5,122.7 329.0,122.6 329.5,123.1 330.5,122.8 331.0,122.9 331.5,123.4 333.0,123.6 333.5,123.2 334.0,123.8 334.5,123.5 335.0,123.7 335.5,123.4 336.0,123.8 336.5,123.8 337.0,124.4 337.5,123.8 338.0,124.2 338.5,124.0 339.0,124.3 339.5,124.0 340.0,124.1 340.5,123.5 341.5,124.3 343.0,124.1 343.5,124.4 344.0,124.1 345.0,124.6 345.5,124.6 346.0,124.2 347.0,124.5 348.5,124.3 349.0,124.7 349.5,124.4 350.0,124.4 350.5,125.1 351.0,125.3 351.5,125.3 352.5,124.9 353.5,125.6 355.0,125.1 355.5,125.2 356.0,126.1 356.5,125.4" fill="none" stroke="#ff0a14" stroke-width="1.6" stroke-linejoin="round"/>
<path d="M121.5,137.1 122.0,137.3 122.5,136.8 123.0,137.3 123.5,136.7 124.5,137.1 125.5,136.6 126.0,137.1 127.0,136.2 127.5,136.4 128.0,136.1 128.5,136.3 129.0,135.8 129.5,136.1 130.0,135.5 130.5,136.1 131.0,135.8 131.5,135.9 132.5,134.8 133.5,135.0 134.0,135.4 134.5,134.9 135.0,135.0 135.5,134.2 136.5,134.0 137.0,134.2 137.5,133.6 138.0,133.5 138.5,133.7 139.0,132.9 139.5,132.9 140.0,132.4 141.5,132.4 142.5,131.0 143.0,131.5 143.5,131.6 144.0,130.8 145.0,130.5 146.0,129.3 146.5,129.7 147.0,129.6 147.5,128.8 148.0,128.9 149.5,127.8 150.0,128.1 150.5,127.5 153.0,126.1 153.5,125.6 154.0,125.6 154.5,125.1 155.0,125.0 155.5,124.2 156.5,123.6 157.0,123.9 157.5,123.0 158.0,122.8 158.5,122.0 159.0,121.8 159.5,121.3 160.0,121.3 160.5,120.7 161.0,121.0 161.5,120.0 162.0,120.1 163.5,118.7 164.0,118.6 165.0,117.9 165.5,117.9 166.0,117.2 166.5,117.3 167.5,116.9 168.0,116.4 168.5,116.6 169.0,116.1 170.0,115.9 170.5,116.1 171.0,116.3 171.5,117.0 172.0,115.6 172.5,116.6 173.5,116.8 174.0,116.6 175.0,117.2 175.5,116.9 176.5,117.0 177.5,117.6 178.0,117.1 178.5,117.7 179.0,117.0 179.5,117.8 180.0,117.7 180.5,118.3 182.5,118.7 183.0,118.2 183.5,118.9 184.0,118.6 184.5,119.4 185.0,119.1 187.5,120.0 188.0,119.6 188.5,120.3 189.0,119.7 189.5,119.9 190.0,119.2 190.5,119.7 191.5,119.5 192.5,118.7 196.0,113.6 197.5,110.6 199.0,108.3 200.5,104.1 201.0,103.9 201.5,102.5 203.0,102.6 205.5,103.9 206.5,104.2 207.5,103.3 208.0,103.7 209.0,101.8 209.5,102.2 210.5,101.1 211.5,100.7 212.0,100.1 212.5,100.1 213.5,99.3 214.5,98.9 215.0,99.0 216.0,98.2 217.0,99.0 217.5,99.2 218.0,98.7 218.5,99.3 220.5,99.3 221.5,99.8 222.0,99.9 222.5,99.5 224.0,99.6 224.5,98.9 225.5,99.5 226.0,99.6 226.5,99.1 227.0,99.5 227.5,98.4 228.0,99.3 228.5,98.7 229.0,98.7 230.0,98.0 231.0,97.9 231.5,97.4 232.0,97.8 232.5,97.3 234.5,96.7 235.0,96.2 235.5,96.6 236.0,96.0 236.5,96.4 237.0,96.0 237.5,96.2 238.0,96.1 239.0,96.9 239.5,96.4 242.0,97.2 243.0,96.3 243.5,96.8 244.0,96.4 245.0,96.5 245.5,96.4 246.0,95.8 246.5,95.9 248.5,93.6 249.0,92.3 250.0,90.9 252.5,85.2 253.0,82.8 253.5,82.1 255.5,74.8 258.5,67.6 261.5,57.7 264.5,52.9 265.0,53.3 266.0,53.2 267.0,55.3 267.5,55.6 268.5,58.5 269.5,62.7 271.0,70.4 275.0,98.6 278.0,112.5 279.0,115.4 279.5,116.2 280.0,118.1 282.5,123.1 283.0,123.1 284.0,125.2 284.5,125.2 286.5,127.6 287.0,127.7 287.5,128.3 288.5,128.5 289.0,129.3 291.5,129.5 292.5,130.5 293.0,129.6 294.0,131.1 294.5,131.1 295.0,130.5 295.5,130.6 296.0,131.2 296.5,130.7 297.0,131.0 297.5,130.8 298.0,131.2 298.5,131.2 299.0,131.6 299.5,131.0 300.0,130.8 301.0,131.4 301.5,131.3 302.0,132.1 302.5,131.4 304.0,132.1 304.5,131.8 305.0,132.0 305.5,131.6 307.0,132.6 308.5,133.1 310.0,133.2 310.5,133.0 311.5,133.2 312.5,134.1 313.0,133.7 313.5,134.1 314.0,133.4 315.0,133.6 316.0,134.2 318.0,133.7 318.5,134.0 320.0,133.8 320.5,134.1 321.5,133.9 322.0,134.5 322.5,134.2 323.0,134.4 323.5,134.0 324.0,134.2 325.0,134.2 325.5,134.5 326.5,134.3 328.0,134.7 328.5,135.2 329.0,134.2 329.5,135.0 330.5,135.0 332.0,134.4 332.5,135.1 333.5,134.9 334.0,135.4 334.5,134.8 335.5,135.3 336.0,135.1 337.5,135.3 338.0,134.9 338.5,134.9 339.0,135.6 340.5,135.2 341.0,135.8 342.0,135.3 342.5,135.8 343.0,135.3 344.0,135.7 344.5,135.4 345.0,135.8 346.5,135.8 347.0,136.3 348.0,135.9 348.5,136.2 349.5,135.6 350.0,136.5 350.5,135.9 351.0,135.9 351.5,136.5 352.0,136.3 352.5,136.8 353.5,137.0 354.0,136.7 354.5,136.9 355.0,136.6 355.5,137.2 356.5,137.1" fill="none" stroke="#141414" stroke-width="1.6" stroke-linejoin="round"/>
<line x1="121.2" y1="140.3" x2="356.9" y2="140.3" stroke="#000" stroke-width="1"/>
<path d="M123.0,140.3V138.7M134.1,140.3V138.7M145.3,140.3V138.7M156.4,140.3V137.5M167.5,140.3V138.7M178.7,140.3V138.7M189.8,140.3V138.7M200.9,140.3V138.7M212.1,140.3V137.5M223.2,140.3V138.7M234.3,140.3V138.7M245.5,140.3V138.7M256.6,140.3V138.7M267.7,140.3V137.5M278.9,140.3V138.7M290.0,140.3V138.7M301.1,140.3V138.7M312.3,140.3V138.7M323.4,140.3V137.5M334.5,140.3V138.7M345.7,140.3V138.7M356.8,140.3V138.7" stroke="#000" stroke-width="0.9" fill="none"/>
<text x="156.4" y="153.9" font-family="Liberation Sans" font-size="12" text-anchor="middle" fill="#1a1a1a">250</text>
<text x="212.1" y="153.9" font-family="Liberation Sans" font-size="12" text-anchor="middle" fill="#1a1a1a">300</text>
<text x="267.7" y="153.9" font-family="Liberation Sans" font-size="12" text-anchor="middle" fill="#1a1a1a">350</text>
<text x="323.4" y="153.9" font-family="Liberation Sans" font-size="12" text-anchor="middle" fill="#1a1a1a">400</text>
<text x="187.6" y="175.4" font-family="Liberation Sans" font-size="13.2" fill="#1a1a1a">Raman shift [cm<tspan dy="-5.5" dx="0.3" font-size="8.5">-</tspan><tspan dx="0.8" font-size="8.5">1</tspan><tspan dy="5.5" dx="0.3">]</tspan></text>
<text x="286.2" y="16.6" font-family="Liberation Sans" font-size="9.8" fill="#1f4fff">353</text>
<line x1="278.5" y1="20.7" x2="285" y2="18.3" stroke="#1f4fff" stroke-width="0.9"/>
<text x="285.8" y="30.1" font-family="Liberation Sans" font-size="9.8" fill="#33ff00">352</text>
<line x1="272.8" y1="35.4" x2="285" y2="30.1" stroke="#33ff00" stroke-width="0.9"/>
<text x="288.5" y="44.8" font-family="Liberation Sans" font-size="9.8" fill="#ff0a14">350</text>
<line x1="272" y1="50.3" x2="286.1" y2="43.8" stroke="#ff0a14" stroke-width="0.9"/>
<text x="305.5" y="53.3" font-family="Liberation Sans" font-size="9.8" fill="#1a1a1a">347</text>
<line x1="271" y1="64.5" x2="304.9" y2="51.7" stroke="#1a1a1a" stroke-width="0.9"/>
<rect x="20.4" y="0.8" width="336.5" height="247.3" fill="none" stroke="#000" stroke-width="1.4"/>
<path d="M28.3,248.1V245.5M40.4,248.1V245.5M52.5,248.1V243.1M64.6,248.1V245.5M76.7,248.1V245.5M88.8,248.1V245.5M100.9,248.1V245.5M113.0,248.1V243.1M125.1,248.1V245.5M137.2,248.1V245.5M149.3,248.1V245.5M161.4,248.1V245.5M173.5,248.1V243.1M185.6,248.1V245.5M197.7,248.1V245.5M209.8,248.1V245.5M221.9,248.1V245.5M234.0,248.1V243.1M246.1,248.1V245.5M258.2,248.1V245.5M270.3,248.1V245.5M282.4,248.1V245.5M294.5,248.1V243.1M306.6,248.1V245.5M318.7,248.1V245.5M330.8,248.1V245.5M342.9,248.1V245.5M355.0,248.1V243.1" stroke="#000" stroke-width="1.1" fill="none"/>
<text x="52.8" y="264.8" font-family="Liberation Sans" font-size="14.5" text-anchor="middle" fill="#1a1a1a">200</text>
<text x="113.3" y="264.8" font-family="Liberation Sans" font-size="14.5" text-anchor="middle" fill="#1a1a1a">400</text>
<text x="173.8" y="264.8" font-family="Liberation Sans" font-size="14.5" text-anchor="middle" fill="#1a1a1a">600</text>
<text x="234.3" y="264.8" font-family="Liberation Sans" font-size="14.5" text-anchor="middle" fill="#1a1a1a">800</text>
<text x="294.8" y="264.8" font-family="Liberation Sans" font-size="14.5" text-anchor="middle" fill="#1a1a1a">1000</text>
<text x="355.3" y="264.8" font-family="Liberation Sans" font-size="14.5" text-anchor="middle" fill="#1a1a1a">1200</text>
<text x="132.4" y="286.8" font-family="Liberation Sans" font-size="15.6" fill="#1a1a1a">Raman shift [cm<tspan dy="-6.5" dx="0.5" font-size="10">-</tspan><tspan dx="1" font-size="10">1</tspan><tspan dy="6.5" dx="0.3">]</tspan></text>
<text transform="translate(13.9,177.3) rotate(-90)" font-family="Liberation Sans" font-size="15.8" fill="#1a1a1a">Intensity [arb.un.]</text>
<text x="327.3" y="21" font-family="Liberation Sans" font-size="20" fill="#1a1a1a">(a)</text>
<line x1="23.6" y1="12.0" x2="57.3" y2="12.0" stroke="#1f4fff" stroke-width="1.5"/>
<text x="61" y="16.9" font-family="Liberation Sans" font-size="14.4" fill="#1a1a1a">ZnS:CIS 2:1</text>
<line x1="23.6" y1="29.7" x2="57.3" y2="29.7" stroke="#33ff00" stroke-width="1.5"/>
<text x="61" y="34.5" font-family="Liberation Sans" font-size="14.4" fill="#1a1a1a">ZnS:CIS 3:2</text>
<line x1="23.6" y1="47.3" x2="57.3" y2="47.3" stroke="#ff0a14" stroke-width="1.5"/>
<text x="61" y="52.1" font-family="Liberation Sans" font-size="14.4" fill="#1a1a1a">ZnS:CIS 1:1</text>
<line x1="23.6" y1="65.0" x2="57.3" y2="65.0" stroke="#141414" stroke-width="1.5"/>
<text x="61" y="69.7" font-family="Liberation Sans" font-size="14.4" fill="#1a1a1a">ZnS:CIS 1:2</text>
<rect x="17.7" y="323.5" width="340.7" height="251.3" fill="none" stroke="#000" stroke-width="1.4"/>
<path d="M26.7,574.8V572.2M38.9,574.8V572.2M51.1,574.8V569.8M63.3,574.8V572.2M75.5,574.8V572.2M87.7,574.8V572.2M99.9,574.8V572.2M112.0,574.8V569.8M124.2,574.8V572.2M136.4,574.8V572.2M148.6,574.8V572.2M160.8,574.8V572.2M173.0,574.8V569.8M185.2,574.8V572.2M197.4,574.8V572.2M209.5,574.8V572.2M221.7,574.8V572.2M233.9,574.8V569.8M246.1,574.8V572.2M258.3,574.8V572.2M270.5,574.8V572.2M282.7,574.8V572.2M294.9,574.8V569.8M307.0,574.8V572.2M319.2,574.8V572.2M331.4,574.8V572.2M343.6,574.8V572.2M355.8,574.8V569.8" stroke="#000" stroke-width="1.1" fill="none"/>
<text x="51.4" y="591.6" font-family="Liberation Sans" font-size="14.5" text-anchor="middle" fill="#1a1a1a">200</text>
<text x="112.3" y="591.6" font-family="Liberation Sans" font-size="14.5" text-anchor="middle" fill="#1a1a1a">400</text>
<text x="173.3" y="591.6" font-family="Liberation Sans" font-size="14.5" text-anchor="middle" fill="#1a1a1a">600</text>
<text x="234.2" y="591.6" font-family="Liberation Sans" font-size="14.5" text-anchor="middle" fill="#1a1a1a">800</text>
<text x="295.2" y="591.6" font-family="Liberation Sans" font-size="14.5" text-anchor="middle" fill="#1a1a1a">1000</text>
<text x="356.1" y="591.6" font-family="Liberation Sans" font-size="14.5" text-anchor="middle" fill="#1a1a1a">1200</text>
<text x="131.2" y="613.5" font-family="Liberation Sans" font-size="16" fill="#1a1a1a">Raman shift [cm<tspan dy="-6.5" dx="0.5" font-size="10">-</tspan><tspan dx="1" font-size="10">1</tspan><tspan dy="6.5" dx="0.3">]</tspan></text>
<text transform="translate(12.2,502.6) rotate(-90)" font-family="Liberation Sans" font-size="16" fill="#1a1a1a">Intensity [arb.un.]</text>
<text x="328.3" y="346.3" font-family="Liberation Sans" font-size="20" fill="#1a1a1a">(b)</text>
<g clip-path="url(#clipb)"><path d="M17.6,567.6 22.5,567.3 23.9,566.9 25.0,566.4 27.0,564.6 29.9,560.2 30.5,559.7 31.0,559.6 31.6,559.8 32.2,560.4 35.4,565.1 37.2,566.5 38.4,567.0 40.0,567.3 45.9,567.7 83.6,567.8 357.9,567.9" fill="none" stroke="#1a1a1a" stroke-width="1.00"/>
<path d="M17.6,567.3 33.8,566.6 39.5,566.1 44.1,565.4 47.9,564.5 51.0,563.4 53.6,561.9 55.8,560.1 57.6,558.1 59.2,555.5 60.5,552.5 61.8,548.8 64.0,539.8 67.6,520.4 68.4,517.4 68.8,516.7 69.2,516.5 69.5,516.7 70.0,517.5 70.8,520.6 74.0,538.0 75.6,545.7 77.2,551.0 79.1,555.3 80.3,557.4 81.6,559.2 83.2,560.7 84.9,562.1 86.9,563.2 89.1,564.1 94.7,565.5 101.3,566.3 110.2,566.9 122.6,567.3 140.1,567.5 202.0,567.8 357.9,567.8" fill="none" stroke="#1a1a1a" stroke-width="1.00"/>
<path d="M17.6,567.8 47.8,567.8 61.0,567.5 67.8,567.0 69.9,566.6 71.5,565.9 72.7,565.0 73.5,563.9 74.2,562.2 74.8,559.8 75.9,552.7 77.5,537.0 77.8,535.2 78.1,534.5 78.4,535.2 78.8,537.5 80.7,556.1 81.4,560.1 82.1,562.6 83.1,564.6 84.4,565.8 86.4,566.6 89.3,567.2 98.3,567.6 119.4,567.8 357.9,567.9" fill="none" stroke="#1a1a1a" stroke-width="1.00"/>
<path d="M17.6,567.6 43.0,567.2 50.9,566.9 56.8,566.4 61.5,565.6 65.1,564.6 68.0,563.3 70.3,561.5 72.1,559.3 73.6,556.5 75.0,552.6 76.2,547.9 78.1,535.7 80.9,509.9 81.5,506.4 82.0,505.3 82.3,505.6 82.6,506.6 83.2,510.2 85.6,532.2 86.9,542.1 88.1,548.8 89.5,553.9 90.4,556.4 91.5,558.5 92.6,560.2 94.0,561.7 95.5,562.9 97.3,564.0 99.5,564.8 102.0,565.5 107.5,566.4 115.1,567.0 125.8,567.4 141.6,567.6 199.3,567.8 357.9,567.8" fill="none" stroke="#1a1a1a" stroke-width="1.00"/>
<path d="M17.6,567.6 45.8,567.2 54.5,566.9 60.9,566.3 66.0,565.6 70.0,564.6 73.1,563.2 75.6,561.4 77.6,559.1 79.2,556.1 80.6,552.3 81.8,547.5 82.9,541.8 83.9,535.0 87.1,507.1 87.7,503.8 88.0,502.8 88.3,502.5 88.6,502.7 89.0,503.8 89.6,507.7 92.2,530.8 93.6,541.0 94.9,548.0 96.3,553.4 97.3,555.8 98.3,558.0 99.5,559.8 100.9,561.3 102.5,562.6 104.3,563.7 106.5,564.5 108.9,565.2 114.5,566.2 122.2,566.9 132.9,567.3 148.7,567.5 205.5,567.8 357.9,567.8" fill="none" stroke="#1a1a1a" stroke-width="1.00"/>
<path d="M17.6,567.6 39.7,567.4 54.2,567.0 64.3,566.4 71.4,565.5 74.3,564.8 76.7,564.0 78.8,563.0 80.7,561.9 82.3,560.5 83.6,558.8 84.8,556.9 85.9,554.5 87.5,549.1 88.7,541.8 89.8,531.1 90.7,516.9 92.3,477.0 94.8,386.8 95.4,374.6 95.7,371.0 95.9,370.2 96.1,371.0 96.4,374.7 97.0,389.3 100.1,494.9 101.0,515.6 102.0,531.1 103.4,544.0 104.1,548.4 105.0,552.1 106.2,555.3 107.5,557.9 109.1,560.1 111.1,561.9 113.2,563.2 115.6,564.2 118.5,565.1 122.0,565.8 131.2,566.7 145.1,567.3 165.4,567.6 198.2,567.7 357.9,567.8" fill="none" stroke="#1f4fff" stroke-width="1.35"/>
<path d="M17.6,567.8 75.8,567.6 88.3,567.2 96.3,566.6 101.7,565.6 103.8,564.9 105.6,564.0 108.6,561.7 113.0,556.9 113.8,556.3 114.6,556.1 115.5,556.4 116.5,557.0 120.0,561.0 121.7,562.7 123.4,563.9 125.2,564.8 127.9,565.7 131.2,566.4 135.2,566.8 140.5,567.2 155.1,567.6 182.0,567.8 357.9,567.8" fill="none" stroke="#1a1a1a" stroke-width="1.00"/>
<path d="M17.6,567.8 114.9,567.5 134.1,567.2 143.6,566.5 146.9,565.9 149.7,565.0 152.2,563.9 154.6,562.5 156.9,560.7 159.2,558.5 166.0,550.8 168.2,548.6 170.5,546.9 171.6,546.5 172.7,546.4 173.7,546.5 174.8,546.9 177.1,548.5 179.3,550.8 186.2,558.7 188.6,560.9 191.0,562.7 193.5,564.1 196.2,565.2 199.3,566.1 202.8,566.6 213.8,567.2 236.9,567.6 357.9,567.8" fill="none" stroke="#1a1a1a" stroke-width="1.00"/>
<path d="M17.6,567.8 90.6,567.7 128.0,567.3 149.7,566.7 157.0,566.1 162.4,565.4 166.3,564.5 169.5,563.3 172.3,561.7 174.8,559.5 177.1,556.9 179.3,553.6 186.6,540.3 188.3,538.4 189.1,538.0 189.8,537.8 190.6,538.0 191.3,538.4 192.9,540.3 194.5,542.8 200.3,553.6 202.5,556.9 204.7,559.5 207.3,561.6 210.0,563.3 213.1,564.5 217.0,565.4 222.3,566.1 229.4,566.6 250.7,567.3 287.2,567.6 357.9,567.8" fill="none" stroke="#1a1a1a" stroke-width="1.00"/>
<path d="M17.6,567.8 149.6,567.7 170.2,567.3 181.5,566.7 185.5,566.0 188.7,565.2 191.3,563.9 193.4,562.4 194.8,560.7 196.1,558.6 197.5,555.7 200.3,548.8 201.0,547.6 201.7,547.2 202.3,547.4 203.0,548.4 206.9,557.8 208.3,560.3 209.8,562.1 211.8,563.8 214.2,565.0 217.1,565.9 220.7,566.5 230.9,567.3 248.9,567.6 357.9,567.8" fill="none" stroke="#1f4fff" stroke-width="1.35"/>
<path d="M17.6,567.8 170.3,567.5 205.1,567.2 225.0,566.7 238.1,565.8 249.2,564.4 259.4,562.2 278.9,557.1 283.9,556.2 288.5,555.9 293.0,556.2 298.0,557.0 318.3,562.4 329.5,564.6 335.6,565.5 342.1,566.1 357.9,566.9" fill="none" stroke="#1a1a1a" stroke-width="1.00"/>
<line x1="17.7" y1="568.2" x2="358.4" y2="568.2" stroke="#1f4fff" stroke-width="1.6"/>
<g fill="none" stroke="#333d48" stroke-width="0.75"><circle cx="18.2" cy="563.6" r="2.8"/><circle cx="18.4" cy="562.8" r="2.8"/><circle cx="18.6" cy="564.3" r="2.8"/><circle cx="18.9" cy="565.2" r="2.8"/><circle cx="19.1" cy="566.2" r="2.8"/><circle cx="19.3" cy="564.7" r="2.8"/><circle cx="19.6" cy="563.8" r="2.8"/><circle cx="19.8" cy="563.4" r="2.8"/><circle cx="20.0" cy="565.6" r="2.8"/><circle cx="20.2" cy="566.8" r="2.8"/><circle cx="20.5" cy="564.8" r="2.8"/><circle cx="20.7" cy="562.7" r="2.8"/><circle cx="20.9" cy="563.0" r="2.8"/><circle cx="21.2" cy="566.6" r="2.8"/><circle cx="21.4" cy="564.6" r="2.8"/><circle cx="21.6" cy="561.9" r="2.8"/><circle cx="21.8" cy="564.1" r="2.8"/><circle cx="22.1" cy="562.6" r="2.8"/><circle cx="22.3" cy="563.3" r="2.8"/><circle cx="22.5" cy="563.4" r="2.8"/><circle cx="22.8" cy="563.1" r="2.8"/><circle cx="23.0" cy="564.8" r="2.8"/><circle cx="23.2" cy="563.8" r="2.8"/><circle cx="23.4" cy="563.0" r="2.8"/><circle cx="23.7" cy="564.3" r="2.8"/><circle cx="23.9" cy="564.8" r="2.8"/><circle cx="24.1" cy="561.3" r="2.8"/><circle cx="24.4" cy="563.1" r="2.8"/><circle cx="24.6" cy="562.0" r="2.8"/><circle cx="24.8" cy="563.0" r="2.8"/><circle cx="25.0" cy="561.3" r="2.8"/><circle cx="25.3" cy="563.0" r="2.8"/><circle cx="25.5" cy="562.7" r="2.8"/><circle cx="25.7" cy="562.1" r="2.8"/><circle cx="26.0" cy="560.9" r="2.8"/><circle cx="26.2" cy="561.6" r="2.8"/><circle cx="26.4" cy="560.3" r="2.8"/><circle cx="26.6" cy="559.7" r="2.8"/><circle cx="26.9" cy="561.6" r="2.8"/><circle cx="27.1" cy="559.4" r="2.8"/><circle cx="27.3" cy="562.3" r="2.8"/><circle cx="27.6" cy="561.3" r="2.8"/><circle cx="27.8" cy="557.2" r="2.8"/><circle cx="28.0" cy="560.0" r="2.8"/><circle cx="28.2" cy="557.7" r="2.8"/><circle cx="28.5" cy="558.9" r="2.8"/><circle cx="28.7" cy="558.5" r="2.8"/><circle cx="28.9" cy="555.3" r="2.8"/><circle cx="29.2" cy="557.3" r="2.8"/><circle cx="29.4" cy="556.9" r="2.8"/><circle cx="29.6" cy="558.3" r="2.8"/><circle cx="29.8" cy="555.0" r="2.8"/><circle cx="30.1" cy="557.4" r="2.8"/><circle cx="30.3" cy="554.6" r="2.8"/><circle cx="30.5" cy="555.5" r="2.8"/><circle cx="30.8" cy="554.6" r="2.8"/><circle cx="31.0" cy="557.8" r="2.8"/><circle cx="31.2" cy="556.6" r="2.8"/><circle cx="31.4" cy="559.3" r="2.8"/><circle cx="31.7" cy="556.9" r="2.8"/><circle cx="31.9" cy="557.4" r="2.8"/><circle cx="32.1" cy="557.6" r="2.8"/><circle cx="32.4" cy="555.8" r="2.8"/><circle cx="32.6" cy="556.9" r="2.8"/><circle cx="32.8" cy="559.2" r="2.8"/><circle cx="33.0" cy="557.1" r="2.8"/><circle cx="33.3" cy="558.2" r="2.8"/><circle cx="33.5" cy="558.3" r="2.8"/><circle cx="33.7" cy="559.5" r="2.8"/><circle cx="34.0" cy="558.5" r="2.8"/><circle cx="34.2" cy="559.1" r="2.8"/><circle cx="34.4" cy="560.0" r="2.8"/><circle cx="34.6" cy="560.1" r="2.8"/><circle cx="34.9" cy="559.0" r="2.8"/><circle cx="35.1" cy="561.7" r="2.8"/><circle cx="35.3" cy="558.9" r="2.8"/><circle cx="35.6" cy="559.3" r="2.8"/><circle cx="35.8" cy="559.3" r="2.8"/><circle cx="36.0" cy="562.7" r="2.8"/><circle cx="36.2" cy="561.0" r="2.8"/><circle cx="36.5" cy="560.3" r="2.8"/><circle cx="36.7" cy="560.2" r="2.8"/><circle cx="36.9" cy="562.5" r="2.8"/><circle cx="37.2" cy="560.5" r="2.8"/><circle cx="37.4" cy="560.3" r="2.8"/><circle cx="37.6" cy="563.0" r="2.8"/><circle cx="37.8" cy="560.5" r="2.8"/><circle cx="38.1" cy="561.8" r="2.8"/><circle cx="38.3" cy="562.2" r="2.8"/><circle cx="38.5" cy="561.7" r="2.8"/><circle cx="38.8" cy="562.2" r="2.8"/><circle cx="39.0" cy="564.2" r="2.8"/><circle cx="39.2" cy="561.6" r="2.8"/><circle cx="39.4" cy="560.5" r="2.8"/><circle cx="39.7" cy="559.7" r="2.8"/><circle cx="39.9" cy="562.0" r="2.8"/><circle cx="40.1" cy="561.8" r="2.8"/><circle cx="40.4" cy="562.6" r="2.8"/><circle cx="40.6" cy="561.6" r="2.8"/><circle cx="40.8" cy="561.5" r="2.8"/><circle cx="41.0" cy="561.2" r="2.8"/><circle cx="41.3" cy="561.4" r="2.8"/><circle cx="41.5" cy="562.3" r="2.8"/><circle cx="41.7" cy="561.6" r="2.8"/><circle cx="42.0" cy="562.2" r="2.8"/><circle cx="42.2" cy="564.7" r="2.8"/><circle cx="42.4" cy="562.6" r="2.8"/><circle cx="42.6" cy="559.7" r="2.8"/><circle cx="42.9" cy="564.3" r="2.8"/><circle cx="43.1" cy="562.3" r="2.8"/><circle cx="43.3" cy="560.5" r="2.8"/><circle cx="43.6" cy="563.0" r="2.8"/><circle cx="43.8" cy="561.7" r="2.8"/><circle cx="44.0" cy="560.8" r="2.8"/><circle cx="44.2" cy="560.7" r="2.8"/><circle cx="44.5" cy="560.1" r="2.8"/><circle cx="44.7" cy="561.5" r="2.8"/><circle cx="44.9" cy="562.9" r="2.8"/><circle cx="45.2" cy="560.9" r="2.8"/><circle cx="45.4" cy="561.9" r="2.8"/><circle cx="45.6" cy="563.8" r="2.8"/><circle cx="45.8" cy="559.4" r="2.8"/><circle cx="46.1" cy="561.4" r="2.8"/><circle cx="46.3" cy="560.6" r="2.8"/><circle cx="46.5" cy="559.4" r="2.8"/><circle cx="46.8" cy="559.4" r="2.8"/><circle cx="47.0" cy="560.7" r="2.8"/><circle cx="47.2" cy="561.3" r="2.8"/><circle cx="47.4" cy="559.8" r="2.8"/><circle cx="47.7" cy="560.6" r="2.8"/><circle cx="47.9" cy="561.4" r="2.8"/><circle cx="48.1" cy="560.7" r="2.8"/><circle cx="48.4" cy="561.4" r="2.8"/><circle cx="48.6" cy="560.8" r="2.8"/><circle cx="48.8" cy="560.7" r="2.8"/><circle cx="49.0" cy="562.5" r="2.8"/><circle cx="49.3" cy="560.7" r="2.8"/><circle cx="49.5" cy="559.9" r="2.8"/><circle cx="49.7" cy="560.6" r="2.8"/><circle cx="50.0" cy="558.2" r="2.8"/><circle cx="50.2" cy="558.9" r="2.8"/><circle cx="50.4" cy="560.3" r="2.8"/><circle cx="50.6" cy="560.0" r="2.8"/><circle cx="50.9" cy="561.1" r="2.8"/><circle cx="51.1" cy="558.8" r="2.8"/><circle cx="51.3" cy="556.6" r="2.8"/><circle cx="51.6" cy="561.3" r="2.8"/><circle cx="51.8" cy="559.9" r="2.8"/><circle cx="52.0" cy="556.8" r="2.8"/><circle cx="52.2" cy="560.0" r="2.8"/><circle cx="52.5" cy="558.0" r="2.8"/><circle cx="52.7" cy="555.2" r="2.8"/><circle cx="52.9" cy="557.0" r="2.8"/><circle cx="53.2" cy="556.7" r="2.8"/><circle cx="53.4" cy="559.4" r="2.8"/><circle cx="53.6" cy="555.9" r="2.8"/><circle cx="53.8" cy="556.5" r="2.8"/><circle cx="54.1" cy="556.2" r="2.8"/><circle cx="54.3" cy="555.9" r="2.8"/><circle cx="54.5" cy="554.9" r="2.8"/><circle cx="54.8" cy="556.3" r="2.8"/><circle cx="55.0" cy="557.2" r="2.8"/><circle cx="55.2" cy="556.3" r="2.8"/><circle cx="55.4" cy="553.9" r="2.8"/><circle cx="55.7" cy="553.3" r="2.8"/><circle cx="55.9" cy="554.8" r="2.8"/><circle cx="56.1" cy="553.4" r="2.8"/><circle cx="56.4" cy="553.2" r="2.8"/><circle cx="56.6" cy="551.4" r="2.8"/><circle cx="56.8" cy="556.2" r="2.8"/><circle cx="57.0" cy="554.4" r="2.8"/><circle cx="57.3" cy="551.4" r="2.8"/><circle cx="57.5" cy="553.7" r="2.8"/><circle cx="57.7" cy="553.9" r="2.8"/><circle cx="58.0" cy="548.3" r="2.8"/><circle cx="58.2" cy="550.4" r="2.8"/><circle cx="58.4" cy="550.2" r="2.8"/><circle cx="58.6" cy="551.2" r="2.8"/><circle cx="58.9" cy="549.7" r="2.8"/><circle cx="59.1" cy="549.1" r="2.8"/><circle cx="59.3" cy="548.8" r="2.8"/><circle cx="59.6" cy="550.9" r="2.8"/><circle cx="59.8" cy="550.8" r="2.8"/><circle cx="60.0" cy="546.5" r="2.8"/><circle cx="60.2" cy="545.3" r="2.8"/><circle cx="60.5" cy="549.7" r="2.8"/><circle cx="60.7" cy="543.9" r="2.8"/><circle cx="60.9" cy="543.8" r="2.8"/><circle cx="61.2" cy="543.9" r="2.8"/><circle cx="61.4" cy="543.8" r="2.8"/><circle cx="61.6" cy="543.8" r="2.8"/><circle cx="61.8" cy="542.0" r="2.8"/><circle cx="62.1" cy="539.4" r="2.8"/><circle cx="62.3" cy="540.4" r="2.8"/><circle cx="62.5" cy="539.1" r="2.8"/><circle cx="62.8" cy="540.4" r="2.8"/><circle cx="63.0" cy="536.7" r="2.8"/><circle cx="63.2" cy="533.8" r="2.8"/><circle cx="63.4" cy="533.0" r="2.8"/><circle cx="63.7" cy="535.4" r="2.8"/><circle cx="63.9" cy="531.3" r="2.8"/><circle cx="64.1" cy="527.9" r="2.8"/><circle cx="64.4" cy="528.7" r="2.8"/><circle cx="64.6" cy="528.2" r="2.8"/><circle cx="64.8" cy="528.4" r="2.8"/><circle cx="65.0" cy="523.9" r="2.8"/><circle cx="65.3" cy="524.8" r="2.8"/><circle cx="65.5" cy="523.5" r="2.8"/><circle cx="65.7" cy="519.8" r="2.8"/><circle cx="66.0" cy="519.0" r="2.8"/><circle cx="66.2" cy="520.2" r="2.8"/><circle cx="66.4" cy="518.6" r="2.8"/><circle cx="66.6" cy="515.9" r="2.8"/><circle cx="66.9" cy="513.6" r="2.8"/><circle cx="67.1" cy="513.3" r="2.8"/><circle cx="67.3" cy="510.1" r="2.8"/><circle cx="67.6" cy="508.9" r="2.8"/><circle cx="67.8" cy="506.6" r="2.8"/><circle cx="68.0" cy="506.7" r="2.8"/><circle cx="68.2" cy="505.6" r="2.8"/><circle cx="68.5" cy="508.7" r="2.8"/><circle cx="68.7" cy="503.8" r="2.8"/><circle cx="68.9" cy="505.3" r="2.8"/><circle cx="69.2" cy="505.0" r="2.8"/><circle cx="69.4" cy="502.6" r="2.8"/><circle cx="69.6" cy="504.4" r="2.8"/><circle cx="69.8" cy="499.7" r="2.8"/><circle cx="70.1" cy="503.1" r="2.8"/><circle cx="70.3" cy="504.4" r="2.8"/><circle cx="70.5" cy="500.3" r="2.8"/><circle cx="70.8" cy="502.5" r="2.8"/><circle cx="71.0" cy="506.2" r="2.8"/><circle cx="71.2" cy="505.0" r="2.8"/><circle cx="71.4" cy="504.5" r="2.8"/><circle cx="71.7" cy="506.2" r="2.8"/><circle cx="71.9" cy="506.6" r="2.8"/><circle cx="72.1" cy="509.1" r="2.8"/><circle cx="72.4" cy="509.4" r="2.8"/><circle cx="72.6" cy="508.9" r="2.8"/><circle cx="72.8" cy="508.9" r="2.8"/><circle cx="73.0" cy="510.2" r="2.8"/><circle cx="73.3" cy="512.5" r="2.8"/><circle cx="73.5" cy="511.3" r="2.8"/><circle cx="73.7" cy="511.8" r="2.8"/><circle cx="74.0" cy="510.6" r="2.8"/><circle cx="74.2" cy="508.7" r="2.8"/><circle cx="74.4" cy="509.0" r="2.8"/><circle cx="74.6" cy="510.2" r="2.8"/><circle cx="74.9" cy="508.4" r="2.8"/><circle cx="75.1" cy="505.7" r="2.8"/><circle cx="75.3" cy="503.1" r="2.8"/><circle cx="75.6" cy="503.7" r="2.8"/><circle cx="75.8" cy="500.9" r="2.8"/><circle cx="76.0" cy="498.4" r="2.8"/><circle cx="76.2" cy="495.6" r="2.8"/><circle cx="76.5" cy="493.4" r="2.8"/><circle cx="76.7" cy="490.1" r="2.8"/><circle cx="76.9" cy="487.7" r="2.8"/><circle cx="77.2" cy="484.2" r="2.8"/><circle cx="77.4" cy="481.4" r="2.8"/><circle cx="77.6" cy="477.6" r="2.8"/><circle cx="77.8" cy="473.3" r="2.8"/><circle cx="78.1" cy="471.6" r="2.8"/><circle cx="78.3" cy="470.9" r="2.8"/><circle cx="78.5" cy="468.8" r="2.8"/><circle cx="78.8" cy="469.4" r="2.8"/><circle cx="79.0" cy="470.0" r="2.8"/><circle cx="79.2" cy="467.2" r="2.8"/><circle cx="79.4" cy="465.7" r="2.8"/><circle cx="79.7" cy="469.7" r="2.8"/><circle cx="79.9" cy="467.7" r="2.8"/><circle cx="80.1" cy="468.2" r="2.8"/><circle cx="80.4" cy="464.7" r="2.8"/><circle cx="80.6" cy="468.3" r="2.8"/><circle cx="80.8" cy="466.0" r="2.8"/><circle cx="81.0" cy="463.9" r="2.8"/><circle cx="81.3" cy="462.7" r="2.8"/><circle cx="81.5" cy="462.5" r="2.8"/><circle cx="81.7" cy="461.3" r="2.8"/><circle cx="82.0" cy="460.6" r="2.8"/><circle cx="82.2" cy="458.9" r="2.8"/><circle cx="82.4" cy="462.0" r="2.8"/><circle cx="82.6" cy="460.1" r="2.8"/><circle cx="82.9" cy="460.4" r="2.8"/><circle cx="83.1" cy="460.7" r="2.8"/><circle cx="83.3" cy="457.6" r="2.8"/><circle cx="83.6" cy="462.0" r="2.8"/><circle cx="83.8" cy="461.3" r="2.8"/><circle cx="84.0" cy="461.7" r="2.8"/><circle cx="84.2" cy="462.6" r="2.8"/><circle cx="84.5" cy="461.4" r="2.8"/><circle cx="84.7" cy="464.1" r="2.8"/><circle cx="84.9" cy="462.0" r="2.8"/><circle cx="85.2" cy="461.6" r="2.8"/><circle cx="85.4" cy="461.4" r="2.8"/><circle cx="85.6" cy="462.4" r="2.8"/><circle cx="85.8" cy="462.7" r="2.8"/><circle cx="86.1" cy="460.1" r="2.8"/><circle cx="86.3" cy="458.1" r="2.8"/><circle cx="86.5" cy="460.8" r="2.8"/><circle cx="86.7" cy="457.0" r="2.8"/><circle cx="87.0" cy="459.3" r="2.8"/><circle cx="87.2" cy="456.7" r="2.8"/><circle cx="87.4" cy="455.0" r="2.8"/><circle cx="87.7" cy="454.3" r="2.8"/><circle cx="87.9" cy="455.2" r="2.8"/><circle cx="88.1" cy="455.3" r="2.8"/><circle cx="88.3" cy="453.4" r="2.8"/><circle cx="88.6" cy="454.7" r="2.8"/><circle cx="88.8" cy="456.1" r="2.8"/><circle cx="89.0" cy="452.7" r="2.8"/><circle cx="89.3" cy="451.3" r="2.8"/><circle cx="89.5" cy="451.2" r="2.8"/><circle cx="89.7" cy="450.5" r="2.8"/><circle cx="89.9" cy="451.1" r="2.8"/><circle cx="90.2" cy="450.3" r="2.8"/><circle cx="90.4" cy="448.6" r="2.8"/><circle cx="90.6" cy="449.9" r="2.8"/><circle cx="90.9" cy="443.9" r="2.8"/><circle cx="91.1" cy="443.7" r="2.8"/><circle cx="91.3" cy="445.9" r="2.8"/><circle cx="91.5" cy="441.6" r="2.8"/><circle cx="91.8" cy="437.3" r="2.8"/><circle cx="92.0" cy="433.2" r="2.8"/><circle cx="92.2" cy="430.4" r="2.8"/><circle cx="92.5" cy="423.3" r="2.8"/><circle cx="92.7" cy="416.5" r="2.8"/><circle cx="92.9" cy="407.6" r="2.8"/><circle cx="93.1" cy="401.3" r="2.8"/><circle cx="93.4" cy="391.4" r="2.8"/><circle cx="93.6" cy="381.7" r="2.8"/><circle cx="93.8" cy="371.7" r="2.8"/><circle cx="94.1" cy="363.0" r="2.8"/><circle cx="94.3" cy="353.9" r="2.8"/><circle cx="94.5" cy="348.6" r="2.8"/><circle cx="94.7" cy="340.5" r="2.8"/><circle cx="95.0" cy="339.0" r="2.8"/><circle cx="95.2" cy="340.4" r="2.8"/><circle cx="95.4" cy="337.8" r="2.8"/><circle cx="95.7" cy="340.6" r="2.8"/><circle cx="95.9" cy="342.6" r="2.8"/><circle cx="96.1" cy="345.9" r="2.8"/><circle cx="96.3" cy="349.3" r="2.8"/><circle cx="96.6" cy="351.5" r="2.8"/><circle cx="96.8" cy="359.4" r="2.8"/><circle cx="97.0" cy="366.5" r="2.8"/><circle cx="97.3" cy="373.0" r="2.8"/><circle cx="97.5" cy="383.2" r="2.8"/><circle cx="97.7" cy="391.2" r="2.8"/><circle cx="97.9" cy="399.9" r="2.8"/><circle cx="98.2" cy="411.9" r="2.8"/><circle cx="98.4" cy="420.8" r="2.8"/><circle cx="98.6" cy="429.0" r="2.8"/><circle cx="98.9" cy="437.4" r="2.8"/><circle cx="99.1" cy="446.5" r="2.8"/><circle cx="99.3" cy="454.7" r="2.8"/><circle cx="99.5" cy="462.4" r="2.8"/><circle cx="99.8" cy="470.0" r="2.8"/><circle cx="100.0" cy="476.2" r="2.8"/><circle cx="100.2" cy="483.7" r="2.8"/><circle cx="100.5" cy="489.7" r="2.8"/><circle cx="100.7" cy="494.8" r="2.8"/><circle cx="100.9" cy="498.3" r="2.8"/><circle cx="101.1" cy="502.9" r="2.8"/><circle cx="101.4" cy="508.5" r="2.8"/><circle cx="101.6" cy="511.4" r="2.8"/><circle cx="101.8" cy="515.1" r="2.8"/><circle cx="102.1" cy="514.8" r="2.8"/><circle cx="102.3" cy="517.3" r="2.8"/><circle cx="102.5" cy="524.1" r="2.8"/><circle cx="102.7" cy="526.3" r="2.8"/><circle cx="103.0" cy="529.9" r="2.8"/><circle cx="103.2" cy="530.8" r="2.8"/><circle cx="103.4" cy="531.8" r="2.8"/><circle cx="103.7" cy="533.0" r="2.8"/><circle cx="103.9" cy="532.4" r="2.8"/><circle cx="104.1" cy="536.9" r="2.8"/><circle cx="104.3" cy="535.9" r="2.8"/><circle cx="104.6" cy="538.5" r="2.8"/><circle cx="104.8" cy="539.0" r="2.8"/><circle cx="105.0" cy="539.9" r="2.8"/><circle cx="105.3" cy="541.6" r="2.8"/><circle cx="105.5" cy="540.3" r="2.8"/><circle cx="105.7" cy="541.1" r="2.8"/><circle cx="105.9" cy="541.0" r="2.8"/><circle cx="106.2" cy="542.2" r="2.8"/><circle cx="106.4" cy="545.6" r="2.8"/><circle cx="106.6" cy="543.2" r="2.8"/><circle cx="106.9" cy="545.7" r="2.8"/><circle cx="107.1" cy="545.6" r="2.8"/><circle cx="107.3" cy="545.8" r="2.8"/><circle cx="107.5" cy="546.2" r="2.8"/><circle cx="107.8" cy="543.9" r="2.8"/><circle cx="108.0" cy="546.1" r="2.8"/><circle cx="108.2" cy="548.0" r="2.8"/><circle cx="108.5" cy="545.0" r="2.8"/><circle cx="108.7" cy="546.1" r="2.8"/><circle cx="108.9" cy="545.3" r="2.8"/><circle cx="109.1" cy="546.8" r="2.8"/><circle cx="109.4" cy="544.9" r="2.8"/><circle cx="109.6" cy="548.8" r="2.8"/><circle cx="109.8" cy="546.0" r="2.8"/><circle cx="110.1" cy="544.4" r="2.8"/><circle cx="110.3" cy="549.1" r="2.8"/><circle cx="110.5" cy="548.0" r="2.8"/><circle cx="110.7" cy="547.3" r="2.8"/><circle cx="111.0" cy="547.3" r="2.8"/><circle cx="111.2" cy="546.0" r="2.8"/><circle cx="111.4" cy="546.2" r="2.8"/><circle cx="111.7" cy="547.4" r="2.8"/><circle cx="111.9" cy="547.6" r="2.8"/><circle cx="112.1" cy="547.6" r="2.8"/><circle cx="112.3" cy="546.6" r="2.8"/><circle cx="112.6" cy="545.6" r="2.8"/><circle cx="112.8" cy="545.9" r="2.8"/><circle cx="113.0" cy="547.7" r="2.8"/><circle cx="113.3" cy="548.2" r="2.8"/><circle cx="113.5" cy="545.7" r="2.8"/><circle cx="113.7" cy="545.5" r="2.8"/><circle cx="113.9" cy="548.0" r="2.8"/><circle cx="114.2" cy="547.3" r="2.8"/><circle cx="114.4" cy="547.4" r="2.8"/><circle cx="114.6" cy="544.7" r="2.8"/><circle cx="114.9" cy="546.2" r="2.8"/><circle cx="115.1" cy="546.1" r="2.8"/><circle cx="115.3" cy="547.3" r="2.8"/><circle cx="115.5" cy="544.9" r="2.8"/><circle cx="115.8" cy="549.3" r="2.8"/><circle cx="116.0" cy="548.2" r="2.8"/><circle cx="116.2" cy="548.7" r="2.8"/><circle cx="116.5" cy="546.7" r="2.8"/><circle cx="116.7" cy="548.7" r="2.8"/><circle cx="116.9" cy="550.9" r="2.8"/><circle cx="117.1" cy="547.2" r="2.8"/><circle cx="117.4" cy="550.2" r="2.8"/><circle cx="117.6" cy="551.1" r="2.8"/><circle cx="117.8" cy="549.5" r="2.8"/><circle cx="118.1" cy="552.0" r="2.8"/><circle cx="118.3" cy="550.8" r="2.8"/><circle cx="118.5" cy="553.3" r="2.8"/><circle cx="118.7" cy="552.7" r="2.8"/><circle cx="119.0" cy="552.6" r="2.8"/><circle cx="119.2" cy="555.4" r="2.8"/><circle cx="119.4" cy="554.1" r="2.8"/><circle cx="119.7" cy="555.1" r="2.8"/><circle cx="119.9" cy="551.9" r="2.8"/><circle cx="120.1" cy="553.0" r="2.8"/><circle cx="120.3" cy="555.4" r="2.8"/><circle cx="120.6" cy="555.8" r="2.8"/><circle cx="120.8" cy="554.7" r="2.8"/><circle cx="121.0" cy="556.2" r="2.8"/><circle cx="121.3" cy="553.9" r="2.8"/><circle cx="121.5" cy="555.9" r="2.8"/><circle cx="121.7" cy="554.3" r="2.8"/><circle cx="121.9" cy="556.6" r="2.8"/><circle cx="122.2" cy="555.6" r="2.8"/><circle cx="122.4" cy="555.7" r="2.8"/><circle cx="122.6" cy="556.8" r="2.8"/><circle cx="122.9" cy="559.5" r="2.8"/><circle cx="123.1" cy="555.7" r="2.8"/><circle cx="123.3" cy="556.5" r="2.8"/><circle cx="123.5" cy="559.0" r="2.8"/><circle cx="123.8" cy="557.1" r="2.8"/><circle cx="124.0" cy="560.4" r="2.8"/><circle cx="124.2" cy="558.4" r="2.8"/><circle cx="124.5" cy="558.3" r="2.8"/><circle cx="124.7" cy="558.9" r="2.8"/><circle cx="124.9" cy="560.9" r="2.8"/><circle cx="125.1" cy="559.6" r="2.8"/><circle cx="125.4" cy="559.5" r="2.8"/><circle cx="125.6" cy="559.3" r="2.8"/><circle cx="125.8" cy="556.8" r="2.8"/><circle cx="126.1" cy="557.9" r="2.8"/><circle cx="126.3" cy="561.3" r="2.8"/><circle cx="126.5" cy="560.5" r="2.8"/><circle cx="126.7" cy="560.2" r="2.8"/><circle cx="127.0" cy="560.5" r="2.8"/><circle cx="127.2" cy="558.9" r="2.8"/><circle cx="127.4" cy="560.3" r="2.8"/><circle cx="127.7" cy="558.6" r="2.8"/><circle cx="127.9" cy="560.5" r="2.8"/><circle cx="128.1" cy="559.1" r="2.8"/><circle cx="128.3" cy="559.8" r="2.8"/><circle cx="128.6" cy="560.8" r="2.8"/><circle cx="128.8" cy="559.8" r="2.8"/><circle cx="129.0" cy="561.3" r="2.8"/><circle cx="129.3" cy="561.1" r="2.8"/><circle cx="129.5" cy="561.0" r="2.8"/><circle cx="129.7" cy="562.4" r="2.8"/><circle cx="129.9" cy="558.6" r="2.8"/><circle cx="130.2" cy="558.5" r="2.8"/><circle cx="130.4" cy="561.6" r="2.8"/><circle cx="130.6" cy="562.1" r="2.8"/><circle cx="130.9" cy="563.7" r="2.8"/><circle cx="131.1" cy="562.0" r="2.8"/><circle cx="131.3" cy="562.1" r="2.8"/><circle cx="131.5" cy="559.8" r="2.8"/><circle cx="131.8" cy="562.1" r="2.8"/><circle cx="132.0" cy="562.1" r="2.8"/><circle cx="132.2" cy="559.7" r="2.8"/><circle cx="132.5" cy="560.0" r="2.8"/><circle cx="132.7" cy="561.1" r="2.8"/><circle cx="132.9" cy="561.7" r="2.8"/><circle cx="133.1" cy="557.2" r="2.8"/><circle cx="133.4" cy="561.5" r="2.8"/><circle cx="133.6" cy="561.7" r="2.8"/><circle cx="133.8" cy="561.2" r="2.8"/><circle cx="134.1" cy="561.9" r="2.8"/><circle cx="134.3" cy="562.1" r="2.8"/><circle cx="134.5" cy="560.1" r="2.8"/><circle cx="134.7" cy="562.2" r="2.8"/><circle cx="135.0" cy="561.2" r="2.8"/><circle cx="135.2" cy="560.3" r="2.8"/><circle cx="135.4" cy="561.9" r="2.8"/><circle cx="135.7" cy="563.8" r="2.8"/><circle cx="135.9" cy="559.7" r="2.8"/><circle cx="136.1" cy="559.4" r="2.8"/><circle cx="136.3" cy="559.4" r="2.8"/><circle cx="136.6" cy="564.5" r="2.8"/><circle cx="136.8" cy="561.4" r="2.8"/><circle cx="137.0" cy="561.7" r="2.8"/><circle cx="137.3" cy="560.7" r="2.8"/><circle cx="137.5" cy="560.5" r="2.8"/><circle cx="137.7" cy="559.0" r="2.8"/><circle cx="137.9" cy="562.1" r="2.8"/><circle cx="138.2" cy="562.2" r="2.8"/><circle cx="138.4" cy="559.1" r="2.8"/><circle cx="138.6" cy="560.4" r="2.8"/><circle cx="138.9" cy="560.8" r="2.8"/><circle cx="139.1" cy="561.9" r="2.8"/><circle cx="139.3" cy="562.2" r="2.8"/><circle cx="139.5" cy="563.5" r="2.8"/><circle cx="139.8" cy="563.8" r="2.8"/><circle cx="140.0" cy="563.4" r="2.8"/><circle cx="140.2" cy="563.8" r="2.8"/><circle cx="140.5" cy="560.3" r="2.8"/><circle cx="140.7" cy="561.1" r="2.8"/><circle cx="140.9" cy="563.5" r="2.8"/><circle cx="141.1" cy="562.3" r="2.8"/><circle cx="141.4" cy="561.9" r="2.8"/><circle cx="141.6" cy="559.1" r="2.8"/><circle cx="141.8" cy="559.3" r="2.8"/><circle cx="142.1" cy="562.9" r="2.8"/><circle cx="142.3" cy="562.3" r="2.8"/><circle cx="142.5" cy="561.4" r="2.8"/><circle cx="142.7" cy="561.2" r="2.8"/><circle cx="143.0" cy="559.4" r="2.8"/><circle cx="143.2" cy="562.3" r="2.8"/><circle cx="143.4" cy="563.2" r="2.8"/><circle cx="143.7" cy="564.1" r="2.8"/><circle cx="143.9" cy="561.8" r="2.8"/><circle cx="144.1" cy="561.4" r="2.8"/><circle cx="144.3" cy="560.1" r="2.8"/><circle cx="144.6" cy="563.4" r="2.8"/><circle cx="144.8" cy="564.0" r="2.8"/><circle cx="145.0" cy="560.7" r="2.8"/><circle cx="145.3" cy="562.0" r="2.8"/><circle cx="145.5" cy="561.7" r="2.8"/><circle cx="145.7" cy="560.7" r="2.8"/><circle cx="145.9" cy="558.0" r="2.8"/><circle cx="146.2" cy="560.9" r="2.8"/><circle cx="146.4" cy="562.2" r="2.8"/><circle cx="146.6" cy="559.3" r="2.8"/><circle cx="146.9" cy="560.1" r="2.8"/><circle cx="147.1" cy="556.6" r="2.8"/><circle cx="147.3" cy="563.0" r="2.8"/><circle cx="147.5" cy="561.8" r="2.8"/><circle cx="147.8" cy="561.1" r="2.8"/><circle cx="148.0" cy="560.6" r="2.8"/><circle cx="148.2" cy="560.0" r="2.8"/><circle cx="148.5" cy="560.8" r="2.8"/><circle cx="148.7" cy="560.4" r="2.8"/><circle cx="148.9" cy="560.4" r="2.8"/><circle cx="149.1" cy="560.6" r="2.8"/><circle cx="149.4" cy="560.7" r="2.8"/><circle cx="149.6" cy="562.7" r="2.8"/><circle cx="149.8" cy="558.4" r="2.8"/><circle cx="150.1" cy="560.7" r="2.8"/><circle cx="150.3" cy="559.4" r="2.8"/><circle cx="150.5" cy="558.5" r="2.8"/><circle cx="150.7" cy="556.7" r="2.8"/><circle cx="151.0" cy="560.8" r="2.8"/><circle cx="151.2" cy="558.4" r="2.8"/><circle cx="151.4" cy="558.7" r="2.8"/><circle cx="151.7" cy="560.2" r="2.8"/><circle cx="151.9" cy="558.0" r="2.8"/><circle cx="152.1" cy="559.4" r="2.8"/><circle cx="152.3" cy="559.1" r="2.8"/><circle cx="152.6" cy="560.2" r="2.8"/><circle cx="152.8" cy="560.4" r="2.8"/><circle cx="153.0" cy="557.6" r="2.8"/><circle cx="153.3" cy="560.0" r="2.8"/><circle cx="153.5" cy="558.4" r="2.8"/><circle cx="153.7" cy="558.6" r="2.8"/><circle cx="153.9" cy="557.9" r="2.8"/><circle cx="154.2" cy="559.2" r="2.8"/><circle cx="154.4" cy="556.2" r="2.8"/><circle cx="154.6" cy="558.1" r="2.8"/><circle cx="154.9" cy="559.2" r="2.8"/><circle cx="155.1" cy="557.0" r="2.8"/><circle cx="155.3" cy="560.1" r="2.8"/><circle cx="155.5" cy="556.0" r="2.8"/><circle cx="155.8" cy="557.2" r="2.8"/><circle cx="156.0" cy="556.0" r="2.8"/><circle cx="156.2" cy="555.6" r="2.8"/><circle cx="156.5" cy="554.7" r="2.8"/><circle cx="156.7" cy="555.3" r="2.8"/><circle cx="156.9" cy="555.8" r="2.8"/><circle cx="157.1" cy="554.5" r="2.8"/><circle cx="157.4" cy="556.6" r="2.8"/><circle cx="157.6" cy="557.3" r="2.8"/><circle cx="157.8" cy="552.8" r="2.8"/><circle cx="158.0" cy="555.9" r="2.8"/><circle cx="158.3" cy="554.7" r="2.8"/><circle cx="158.5" cy="554.6" r="2.8"/><circle cx="158.7" cy="557.4" r="2.8"/><circle cx="159.0" cy="555.4" r="2.8"/><circle cx="159.2" cy="554.0" r="2.8"/><circle cx="159.4" cy="553.5" r="2.8"/><circle cx="159.6" cy="549.9" r="2.8"/><circle cx="159.9" cy="553.8" r="2.8"/><circle cx="160.1" cy="551.4" r="2.8"/><circle cx="160.3" cy="552.4" r="2.8"/><circle cx="160.6" cy="552.0" r="2.8"/><circle cx="160.8" cy="552.9" r="2.8"/><circle cx="161.0" cy="554.1" r="2.8"/><circle cx="161.2" cy="552.4" r="2.8"/><circle cx="161.5" cy="552.5" r="2.8"/><circle cx="161.7" cy="550.1" r="2.8"/><circle cx="161.9" cy="550.8" r="2.8"/><circle cx="162.2" cy="550.9" r="2.8"/><circle cx="162.4" cy="547.5" r="2.8"/><circle cx="162.6" cy="552.1" r="2.8"/><circle cx="162.8" cy="547.9" r="2.8"/><circle cx="163.1" cy="546.8" r="2.8"/><circle cx="163.3" cy="550.6" r="2.8"/><circle cx="163.5" cy="550.9" r="2.8"/><circle cx="163.8" cy="546.7" r="2.8"/><circle cx="164.0" cy="546.5" r="2.8"/><circle cx="164.2" cy="551.4" r="2.8"/><circle cx="164.4" cy="546.8" r="2.8"/><circle cx="164.7" cy="543.6" r="2.8"/><circle cx="164.9" cy="545.2" r="2.8"/><circle cx="165.1" cy="548.5" r="2.8"/><circle cx="165.4" cy="546.3" r="2.8"/><circle cx="165.6" cy="546.1" r="2.8"/><circle cx="165.8" cy="546.5" r="2.8"/><circle cx="166.0" cy="545.4" r="2.8"/><circle cx="166.3" cy="543.7" r="2.8"/><circle cx="166.5" cy="541.6" r="2.8"/><circle cx="166.7" cy="544.1" r="2.8"/><circle cx="167.0" cy="541.6" r="2.8"/><circle cx="167.2" cy="542.8" r="2.8"/><circle cx="167.4" cy="545.0" r="2.8"/><circle cx="167.6" cy="543.0" r="2.8"/><circle cx="167.9" cy="542.1" r="2.8"/><circle cx="168.1" cy="541.8" r="2.8"/><circle cx="168.3" cy="542.4" r="2.8"/><circle cx="168.6" cy="542.4" r="2.8"/><circle cx="168.8" cy="539.0" r="2.8"/><circle cx="169.0" cy="540.8" r="2.8"/><circle cx="169.2" cy="542.7" r="2.8"/><circle cx="169.5" cy="541.0" r="2.8"/><circle cx="169.7" cy="538.7" r="2.8"/><circle cx="169.9" cy="538.5" r="2.8"/><circle cx="170.2" cy="536.3" r="2.8"/><circle cx="170.4" cy="537.9" r="2.8"/><circle cx="170.6" cy="541.0" r="2.8"/><circle cx="170.8" cy="538.4" r="2.8"/><circle cx="171.1" cy="537.1" r="2.8"/><circle cx="171.3" cy="537.2" r="2.8"/><circle cx="171.5" cy="537.7" r="2.8"/><circle cx="171.8" cy="537.5" r="2.8"/><circle cx="172.0" cy="536.9" r="2.8"/><circle cx="172.2" cy="536.2" r="2.8"/><circle cx="172.4" cy="537.9" r="2.8"/><circle cx="172.7" cy="539.0" r="2.8"/><circle cx="172.9" cy="535.9" r="2.8"/><circle cx="173.1" cy="535.8" r="2.8"/><circle cx="173.4" cy="538.0" r="2.8"/><circle cx="173.6" cy="534.2" r="2.8"/><circle cx="173.8" cy="535.2" r="2.8"/><circle cx="174.0" cy="535.4" r="2.8"/><circle cx="174.3" cy="536.0" r="2.8"/><circle cx="174.5" cy="535.3" r="2.8"/><circle cx="174.7" cy="534.3" r="2.8"/><circle cx="175.0" cy="535.8" r="2.8"/><circle cx="175.2" cy="533.6" r="2.8"/><circle cx="175.4" cy="532.7" r="2.8"/><circle cx="175.6" cy="532.2" r="2.8"/><circle cx="175.9" cy="535.9" r="2.8"/><circle cx="176.1" cy="532.4" r="2.8"/><circle cx="176.3" cy="535.3" r="2.8"/><circle cx="176.6" cy="535.5" r="2.8"/><circle cx="176.8" cy="535.6" r="2.8"/><circle cx="177.0" cy="534.1" r="2.8"/><circle cx="177.2" cy="533.5" r="2.8"/><circle cx="177.5" cy="534.2" r="2.8"/><circle cx="177.7" cy="533.2" r="2.8"/><circle cx="177.9" cy="532.1" r="2.8"/><circle cx="178.2" cy="535.5" r="2.8"/><circle cx="178.4" cy="532.4" r="2.8"/><circle cx="178.6" cy="536.0" r="2.8"/><circle cx="178.8" cy="534.1" r="2.8"/><circle cx="179.1" cy="532.6" r="2.8"/><circle cx="179.3" cy="533.8" r="2.8"/><circle cx="179.5" cy="534.7" r="2.8"/><circle cx="179.8" cy="530.9" r="2.8"/><circle cx="180.0" cy="531.4" r="2.8"/><circle cx="180.2" cy="531.1" r="2.8"/><circle cx="180.4" cy="532.6" r="2.8"/><circle cx="180.7" cy="532.8" r="2.8"/><circle cx="180.9" cy="532.1" r="2.8"/><circle cx="181.1" cy="530.9" r="2.8"/><circle cx="181.4" cy="531.0" r="2.8"/><circle cx="181.6" cy="533.2" r="2.8"/><circle cx="181.8" cy="532.9" r="2.8"/><circle cx="182.0" cy="531.4" r="2.8"/><circle cx="182.3" cy="529.2" r="2.8"/><circle cx="182.5" cy="531.7" r="2.8"/><circle cx="182.7" cy="531.0" r="2.8"/><circle cx="183.0" cy="530.7" r="2.8"/><circle cx="183.2" cy="532.6" r="2.8"/><circle cx="183.4" cy="531.1" r="2.8"/><circle cx="183.6" cy="528.4" r="2.8"/><circle cx="183.9" cy="528.2" r="2.8"/><circle cx="184.1" cy="531.3" r="2.8"/><circle cx="184.3" cy="529.4" r="2.8"/><circle cx="184.6" cy="530.1" r="2.8"/><circle cx="184.8" cy="528.5" r="2.8"/><circle cx="185.0" cy="527.1" r="2.8"/><circle cx="185.2" cy="528.7" r="2.8"/><circle cx="185.5" cy="530.3" r="2.8"/><circle cx="185.7" cy="528.4" r="2.8"/><circle cx="185.9" cy="526.2" r="2.8"/><circle cx="186.2" cy="527.1" r="2.8"/><circle cx="186.4" cy="526.7" r="2.8"/><circle cx="186.6" cy="527.5" r="2.8"/><circle cx="186.8" cy="528.5" r="2.8"/><circle cx="187.1" cy="529.7" r="2.8"/><circle cx="187.3" cy="527.1" r="2.8"/><circle cx="187.5" cy="526.1" r="2.8"/><circle cx="187.8" cy="526.7" r="2.8"/><circle cx="188.0" cy="526.6" r="2.8"/><circle cx="188.2" cy="525.9" r="2.8"/><circle cx="188.4" cy="526.5" r="2.8"/><circle cx="188.7" cy="526.4" r="2.8"/><circle cx="188.9" cy="524.7" r="2.8"/><circle cx="189.1" cy="527.1" r="2.8"/><circle cx="189.4" cy="525.9" r="2.8"/><circle cx="189.6" cy="525.1" r="2.8"/><circle cx="189.8" cy="527.2" r="2.8"/><circle cx="190.0" cy="525.9" r="2.8"/><circle cx="190.3" cy="529.1" r="2.8"/><circle cx="190.5" cy="527.5" r="2.8"/><circle cx="190.7" cy="527.1" r="2.8"/><circle cx="191.0" cy="526.0" r="2.8"/><circle cx="191.2" cy="526.7" r="2.8"/><circle cx="191.4" cy="528.6" r="2.8"/><circle cx="191.6" cy="526.7" r="2.8"/><circle cx="191.9" cy="528.9" r="2.8"/><circle cx="192.1" cy="525.1" r="2.8"/><circle cx="192.3" cy="528.6" r="2.8"/><circle cx="192.6" cy="529.7" r="2.8"/><circle cx="192.8" cy="529.3" r="2.8"/><circle cx="193.0" cy="529.0" r="2.8"/><circle cx="193.2" cy="530.7" r="2.8"/><circle cx="193.5" cy="528.4" r="2.8"/><circle cx="193.7" cy="528.4" r="2.8"/><circle cx="193.9" cy="530.2" r="2.8"/><circle cx="194.2" cy="532.0" r="2.8"/><circle cx="194.4" cy="531.1" r="2.8"/><circle cx="194.6" cy="530.5" r="2.8"/><circle cx="194.8" cy="531.4" r="2.8"/><circle cx="195.1" cy="531.8" r="2.8"/><circle cx="195.3" cy="529.6" r="2.8"/><circle cx="195.5" cy="527.6" r="2.8"/><circle cx="195.8" cy="530.2" r="2.8"/><circle cx="196.0" cy="529.7" r="2.8"/><circle cx="196.2" cy="531.1" r="2.8"/><circle cx="196.4" cy="530.3" r="2.8"/><circle cx="196.7" cy="530.8" r="2.8"/><circle cx="196.9" cy="532.7" r="2.8"/><circle cx="197.1" cy="532.2" r="2.8"/><circle cx="197.4" cy="532.1" r="2.8"/><circle cx="197.6" cy="534.4" r="2.8"/><circle cx="197.8" cy="531.3" r="2.8"/><circle cx="198.0" cy="531.4" r="2.8"/><circle cx="198.3" cy="533.6" r="2.8"/><circle cx="198.5" cy="530.1" r="2.8"/><circle cx="198.7" cy="529.3" r="2.8"/><circle cx="199.0" cy="533.2" r="2.8"/><circle cx="199.2" cy="531.7" r="2.8"/><circle cx="199.4" cy="531.9" r="2.8"/><circle cx="199.6" cy="531.8" r="2.8"/><circle cx="199.9" cy="532.1" r="2.8"/><circle cx="200.1" cy="531.4" r="2.8"/><circle cx="200.3" cy="531.9" r="2.8"/><circle cx="200.6" cy="530.4" r="2.8"/><circle cx="200.8" cy="532.2" r="2.8"/><circle cx="201.0" cy="532.4" r="2.8"/><circle cx="201.2" cy="531.6" r="2.8"/><circle cx="201.5" cy="533.4" r="2.8"/><circle cx="201.7" cy="536.9" r="2.8"/><circle cx="201.9" cy="531.6" r="2.8"/><circle cx="202.2" cy="534.8" r="2.8"/><circle cx="202.4" cy="535.5" r="2.8"/><circle cx="202.6" cy="536.3" r="2.8"/><circle cx="202.8" cy="534.3" r="2.8"/><circle cx="203.1" cy="537.8" r="2.8"/><circle cx="203.3" cy="537.9" r="2.8"/><circle cx="203.5" cy="537.6" r="2.8"/><circle cx="203.8" cy="538.1" r="2.8"/><circle cx="204.0" cy="539.8" r="2.8"/><circle cx="204.2" cy="541.6" r="2.8"/><circle cx="204.4" cy="542.4" r="2.8"/><circle cx="204.7" cy="545.3" r="2.8"/><circle cx="204.9" cy="542.4" r="2.8"/><circle cx="205.1" cy="544.6" r="2.8"/><circle cx="205.4" cy="544.0" r="2.8"/><circle cx="205.6" cy="546.5" r="2.8"/><circle cx="205.8" cy="546.4" r="2.8"/><circle cx="206.0" cy="546.1" r="2.8"/><circle cx="206.3" cy="545.8" r="2.8"/><circle cx="206.5" cy="547.3" r="2.8"/><circle cx="206.7" cy="549.4" r="2.8"/><circle cx="207.0" cy="551.8" r="2.8"/><circle cx="207.2" cy="551.4" r="2.8"/><circle cx="207.4" cy="549.3" r="2.8"/><circle cx="207.6" cy="550.8" r="2.8"/><circle cx="207.9" cy="552.1" r="2.8"/><circle cx="208.1" cy="552.4" r="2.8"/><circle cx="208.3" cy="553.1" r="2.8"/><circle cx="208.6" cy="554.6" r="2.8"/><circle cx="208.8" cy="554.2" r="2.8"/><circle cx="209.0" cy="553.4" r="2.8"/><circle cx="209.2" cy="552.0" r="2.8"/><circle cx="209.5" cy="554.6" r="2.8"/><circle cx="209.7" cy="553.1" r="2.8"/><circle cx="209.9" cy="555.6" r="2.8"/><circle cx="210.2" cy="556.6" r="2.8"/><circle cx="210.4" cy="554.6" r="2.8"/><circle cx="210.6" cy="556.5" r="2.8"/><circle cx="210.8" cy="556.5" r="2.8"/><circle cx="211.1" cy="559.9" r="2.8"/><circle cx="211.3" cy="558.2" r="2.8"/><circle cx="211.5" cy="555.1" r="2.8"/><circle cx="211.8" cy="558.6" r="2.8"/><circle cx="212.0" cy="558.8" r="2.8"/><circle cx="212.2" cy="558.2" r="2.8"/><circle cx="212.4" cy="558.1" r="2.8"/><circle cx="212.7" cy="559.7" r="2.8"/><circle cx="212.9" cy="560.0" r="2.8"/><circle cx="213.1" cy="559.9" r="2.8"/><circle cx="213.4" cy="558.0" r="2.8"/><circle cx="213.6" cy="559.2" r="2.8"/><circle cx="213.8" cy="557.6" r="2.8"/><circle cx="214.0" cy="557.8" r="2.8"/><circle cx="214.3" cy="559.3" r="2.8"/><circle cx="214.5" cy="558.7" r="2.8"/><circle cx="214.7" cy="559.8" r="2.8"/><circle cx="215.0" cy="563.9" r="2.8"/><circle cx="215.2" cy="561.5" r="2.8"/><circle cx="215.4" cy="558.9" r="2.8"/><circle cx="215.6" cy="556.5" r="2.8"/><circle cx="215.9" cy="559.2" r="2.8"/><circle cx="216.1" cy="558.2" r="2.8"/><circle cx="216.3" cy="556.8" r="2.8"/><circle cx="216.6" cy="562.6" r="2.8"/><circle cx="216.8" cy="560.3" r="2.8"/><circle cx="217.0" cy="562.2" r="2.8"/><circle cx="217.2" cy="567.5" r="2.8"/><circle cx="217.5" cy="562.1" r="2.8"/><circle cx="217.7" cy="561.9" r="2.8"/><circle cx="217.9" cy="562.4" r="2.8"/><circle cx="218.2" cy="561.3" r="2.8"/><circle cx="218.4" cy="560.3" r="2.8"/><circle cx="218.6" cy="561.5" r="2.8"/><circle cx="218.8" cy="564.3" r="2.8"/><circle cx="219.1" cy="561.6" r="2.8"/><circle cx="219.3" cy="559.5" r="2.8"/><circle cx="219.5" cy="559.8" r="2.8"/><circle cx="219.8" cy="560.3" r="2.8"/><circle cx="220.0" cy="562.4" r="2.8"/><circle cx="220.2" cy="563.4" r="2.8"/><circle cx="220.4" cy="563.4" r="2.8"/><circle cx="220.7" cy="564.9" r="2.8"/><circle cx="220.9" cy="562.2" r="2.8"/><circle cx="221.1" cy="564.3" r="2.8"/><circle cx="221.4" cy="563.4" r="2.8"/><circle cx="221.6" cy="564.2" r="2.8"/><circle cx="221.8" cy="559.3" r="2.8"/><circle cx="222.0" cy="565.4" r="2.8"/><circle cx="222.3" cy="560.0" r="2.8"/><circle cx="222.5" cy="560.9" r="2.8"/><circle cx="222.7" cy="564.6" r="2.8"/><circle cx="223.0" cy="562.4" r="2.8"/><circle cx="223.2" cy="566.7" r="2.8"/><circle cx="223.4" cy="563.6" r="2.8"/><circle cx="223.6" cy="561.3" r="2.8"/><circle cx="223.9" cy="563.7" r="2.8"/><circle cx="224.1" cy="562.6" r="2.8"/><circle cx="224.3" cy="566.5" r="2.8"/><circle cx="224.6" cy="566.7" r="2.8"/><circle cx="224.8" cy="564.9" r="2.8"/><circle cx="225.0" cy="562.7" r="2.8"/><circle cx="225.2" cy="563.7" r="2.8"/><circle cx="225.5" cy="565.7" r="2.8"/><circle cx="225.7" cy="562.1" r="2.8"/><circle cx="225.9" cy="562.1" r="2.8"/><circle cx="226.2" cy="565.3" r="2.8"/><circle cx="226.4" cy="565.2" r="2.8"/><circle cx="226.6" cy="563.3" r="2.8"/><circle cx="226.8" cy="563.2" r="2.8"/><circle cx="227.1" cy="560.0" r="2.8"/><circle cx="227.3" cy="566.1" r="2.8"/><circle cx="227.5" cy="563.6" r="2.8"/><circle cx="227.7" cy="561.0" r="2.8"/><circle cx="228.0" cy="561.7" r="2.8"/><circle cx="228.2" cy="562.1" r="2.8"/><circle cx="228.4" cy="567.2" r="2.8"/><circle cx="228.7" cy="565.3" r="2.8"/><circle cx="228.9" cy="561.3" r="2.8"/><circle cx="229.1" cy="567.6" r="2.8"/><circle cx="229.3" cy="566.6" r="2.8"/><circle cx="229.6" cy="561.9" r="2.8"/><circle cx="229.8" cy="558.8" r="2.8"/><circle cx="230.0" cy="565.9" r="2.8"/><circle cx="230.3" cy="562.8" r="2.8"/><circle cx="230.5" cy="563.8" r="2.8"/><circle cx="230.7" cy="563.0" r="2.8"/><circle cx="230.9" cy="566.5" r="2.8"/><circle cx="231.2" cy="567.0" r="2.8"/><circle cx="231.4" cy="565.7" r="2.8"/><circle cx="231.6" cy="563.8" r="2.8"/><circle cx="231.9" cy="564.6" r="2.8"/><circle cx="232.1" cy="565.3" r="2.8"/><circle cx="232.3" cy="561.0" r="2.8"/><circle cx="232.5" cy="566.6" r="2.8"/><circle cx="232.8" cy="563.5" r="2.8"/><circle cx="233.0" cy="564.6" r="2.8"/><circle cx="233.2" cy="564.4" r="2.8"/><circle cx="233.5" cy="565.9" r="2.8"/><circle cx="233.7" cy="566.2" r="2.8"/><circle cx="233.9" cy="568.5" r="2.8"/><circle cx="234.1" cy="563.5" r="2.8"/><circle cx="234.4" cy="562.4" r="2.8"/><circle cx="234.6" cy="564.4" r="2.8"/><circle cx="234.8" cy="562.9" r="2.8"/><circle cx="235.1" cy="565.9" r="2.8"/><circle cx="235.3" cy="562.6" r="2.8"/><circle cx="235.5" cy="564.4" r="2.8"/><circle cx="235.7" cy="566.0" r="2.8"/><circle cx="236.0" cy="566.2" r="2.8"/><circle cx="236.2" cy="564.6" r="2.8"/><circle cx="236.4" cy="566.9" r="2.8"/><circle cx="236.7" cy="566.7" r="2.8"/><circle cx="236.9" cy="560.8" r="2.8"/><circle cx="237.1" cy="564.9" r="2.8"/><circle cx="237.3" cy="564.5" r="2.8"/><circle cx="237.6" cy="563.6" r="2.8"/><circle cx="237.8" cy="562.9" r="2.8"/><circle cx="238.0" cy="564.2" r="2.8"/><circle cx="238.3" cy="564.9" r="2.8"/><circle cx="238.5" cy="564.7" r="2.8"/><circle cx="238.7" cy="566.8" r="2.8"/><circle cx="238.9" cy="566.1" r="2.8"/><circle cx="239.2" cy="563.0" r="2.8"/><circle cx="239.4" cy="562.6" r="2.8"/><circle cx="239.6" cy="565.8" r="2.8"/><circle cx="239.9" cy="562.7" r="2.8"/><circle cx="240.1" cy="564.4" r="2.8"/><circle cx="240.3" cy="565.0" r="2.8"/><circle cx="240.5" cy="566.1" r="2.8"/><circle cx="240.8" cy="565.1" r="2.8"/><circle cx="241.0" cy="566.9" r="2.8"/><circle cx="241.2" cy="563.1" r="2.8"/><circle cx="241.5" cy="565.3" r="2.8"/><circle cx="241.7" cy="562.7" r="2.8"/><circle cx="241.9" cy="564.3" r="2.8"/><circle cx="242.1" cy="564.2" r="2.8"/><circle cx="242.4" cy="562.1" r="2.8"/><circle cx="242.6" cy="558.8" r="2.8"/><circle cx="242.8" cy="565.8" r="2.8"/><circle cx="243.1" cy="564.6" r="2.8"/><circle cx="243.3" cy="564.2" r="2.8"/><circle cx="243.5" cy="562.5" r="2.8"/><circle cx="243.7" cy="563.2" r="2.8"/><circle cx="244.0" cy="564.7" r="2.8"/><circle cx="244.2" cy="563.8" r="2.8"/><circle cx="244.4" cy="566.1" r="2.8"/><circle cx="244.7" cy="564.0" r="2.8"/><circle cx="244.9" cy="562.1" r="2.8"/><circle cx="245.1" cy="564.9" r="2.8"/><circle cx="245.3" cy="562.5" r="2.8"/><circle cx="245.6" cy="564.1" r="2.8"/><circle cx="245.8" cy="560.1" r="2.8"/><circle cx="246.0" cy="562.9" r="2.8"/><circle cx="246.3" cy="564.7" r="2.8"/><circle cx="246.5" cy="562.3" r="2.8"/><circle cx="246.7" cy="563.5" r="2.8"/><circle cx="246.9" cy="564.7" r="2.8"/><circle cx="247.2" cy="563.6" r="2.8"/><circle cx="247.4" cy="567.0" r="2.8"/><circle cx="247.6" cy="562.9" r="2.8"/><circle cx="247.9" cy="563.0" r="2.8"/><circle cx="248.1" cy="563.1" r="2.8"/><circle cx="248.3" cy="559.5" r="2.8"/><circle cx="248.5" cy="560.3" r="2.8"/><circle cx="248.8" cy="564.3" r="2.8"/><circle cx="249.0" cy="562.6" r="2.8"/><circle cx="249.2" cy="565.9" r="2.8"/><circle cx="249.5" cy="563.0" r="2.8"/><circle cx="249.7" cy="562.8" r="2.8"/><circle cx="249.9" cy="565.1" r="2.8"/><circle cx="250.1" cy="563.6" r="2.8"/><circle cx="250.4" cy="566.2" r="2.8"/><circle cx="250.6" cy="561.0" r="2.8"/><circle cx="250.8" cy="563.9" r="2.8"/><circle cx="251.1" cy="564.3" r="2.8"/><circle cx="251.3" cy="564.0" r="2.8"/><circle cx="251.5" cy="565.1" r="2.8"/><circle cx="251.7" cy="564.9" r="2.8"/><circle cx="252.0" cy="562.9" r="2.8"/><circle cx="252.2" cy="561.7" r="2.8"/><circle cx="252.4" cy="564.7" r="2.8"/><circle cx="252.7" cy="562.8" r="2.8"/><circle cx="252.9" cy="564.6" r="2.8"/><circle cx="253.1" cy="565.3" r="2.8"/><circle cx="253.3" cy="563.0" r="2.8"/><circle cx="253.6" cy="560.8" r="2.8"/><circle cx="253.8" cy="562.1" r="2.8"/><circle cx="254.0" cy="564.1" r="2.8"/><circle cx="254.3" cy="562.0" r="2.8"/><circle cx="254.5" cy="564.8" r="2.8"/><circle cx="254.7" cy="562.5" r="2.8"/><circle cx="254.9" cy="562.7" r="2.8"/><circle cx="255.2" cy="561.1" r="2.8"/><circle cx="255.4" cy="562.1" r="2.8"/><circle cx="255.6" cy="564.4" r="2.8"/><circle cx="255.9" cy="561.6" r="2.8"/><circle cx="256.1" cy="561.5" r="2.8"/><circle cx="256.3" cy="560.6" r="2.8"/><circle cx="256.5" cy="563.6" r="2.8"/><circle cx="256.8" cy="559.1" r="2.8"/><circle cx="257.0" cy="560.7" r="2.8"/><circle cx="257.2" cy="563.7" r="2.8"/><circle cx="257.5" cy="564.7" r="2.8"/><circle cx="257.7" cy="561.4" r="2.8"/><circle cx="257.9" cy="563.7" r="2.8"/><circle cx="258.1" cy="557.9" r="2.8"/><circle cx="258.4" cy="563.2" r="2.8"/><circle cx="258.6" cy="562.2" r="2.8"/><circle cx="258.8" cy="559.2" r="2.8"/><circle cx="259.1" cy="558.0" r="2.8"/><circle cx="259.3" cy="560.5" r="2.8"/><circle cx="259.5" cy="561.9" r="2.8"/><circle cx="259.7" cy="562.1" r="2.8"/><circle cx="260.0" cy="561.5" r="2.8"/><circle cx="260.2" cy="562.8" r="2.8"/><circle cx="260.4" cy="562.6" r="2.8"/><circle cx="260.7" cy="558.4" r="2.8"/><circle cx="260.9" cy="560.4" r="2.8"/><circle cx="261.1" cy="560.0" r="2.8"/><circle cx="261.3" cy="563.0" r="2.8"/><circle cx="261.6" cy="560.0" r="2.8"/><circle cx="261.8" cy="562.9" r="2.8"/><circle cx="262.0" cy="561.0" r="2.8"/><circle cx="262.3" cy="565.4" r="2.8"/><circle cx="262.5" cy="560.6" r="2.8"/><circle cx="262.7" cy="560.7" r="2.8"/><circle cx="262.9" cy="560.4" r="2.8"/><circle cx="263.2" cy="560.8" r="2.8"/><circle cx="263.4" cy="565.3" r="2.8"/><circle cx="263.6" cy="559.4" r="2.8"/><circle cx="263.9" cy="558.7" r="2.8"/><circle cx="264.1" cy="559.9" r="2.8"/><circle cx="264.3" cy="561.6" r="2.8"/><circle cx="264.5" cy="558.3" r="2.8"/><circle cx="264.8" cy="561.7" r="2.8"/><circle cx="265.0" cy="561.6" r="2.8"/><circle cx="265.2" cy="559.7" r="2.8"/><circle cx="265.5" cy="559.5" r="2.8"/><circle cx="265.7" cy="558.3" r="2.8"/><circle cx="265.9" cy="559.3" r="2.8"/><circle cx="266.1" cy="558.2" r="2.8"/><circle cx="266.4" cy="562.1" r="2.8"/><circle cx="266.6" cy="562.8" r="2.8"/><circle cx="266.8" cy="559.0" r="2.8"/><circle cx="267.1" cy="559.4" r="2.8"/><circle cx="267.3" cy="555.7" r="2.8"/><circle cx="267.5" cy="558.4" r="2.8"/><circle cx="267.7" cy="560.0" r="2.8"/><circle cx="268.0" cy="559.8" r="2.8"/><circle cx="268.2" cy="559.5" r="2.8"/><circle cx="268.4" cy="560.8" r="2.8"/><circle cx="268.7" cy="559.3" r="2.8"/><circle cx="268.9" cy="558.3" r="2.8"/><circle cx="269.1" cy="562.1" r="2.8"/><circle cx="269.3" cy="555.1" r="2.8"/><circle cx="269.6" cy="556.6" r="2.8"/><circle cx="269.8" cy="557.3" r="2.8"/><circle cx="270.0" cy="557.3" r="2.8"/><circle cx="270.3" cy="557.1" r="2.8"/><circle cx="270.5" cy="558.1" r="2.8"/><circle cx="270.7" cy="557.1" r="2.8"/><circle cx="270.9" cy="558.3" r="2.8"/><circle cx="271.2" cy="559.5" r="2.8"/><circle cx="271.4" cy="558.4" r="2.8"/><circle cx="271.6" cy="558.5" r="2.8"/><circle cx="271.9" cy="556.4" r="2.8"/><circle cx="272.1" cy="555.9" r="2.8"/><circle cx="272.3" cy="557.5" r="2.8"/><circle cx="272.5" cy="559.8" r="2.8"/><circle cx="272.8" cy="558.7" r="2.8"/><circle cx="273.0" cy="560.0" r="2.8"/><circle cx="273.2" cy="559.8" r="2.8"/><circle cx="273.5" cy="560.0" r="2.8"/><circle cx="273.7" cy="556.1" r="2.8"/><circle cx="273.9" cy="560.1" r="2.8"/><circle cx="274.1" cy="559.1" r="2.8"/><circle cx="274.4" cy="561.6" r="2.8"/><circle cx="274.6" cy="558.6" r="2.8"/><circle cx="274.8" cy="558.1" r="2.8"/><circle cx="275.1" cy="557.1" r="2.8"/><circle cx="275.3" cy="557.6" r="2.8"/><circle cx="275.5" cy="554.0" r="2.8"/><circle cx="275.7" cy="556.7" r="2.8"/><circle cx="276.0" cy="557.1" r="2.8"/><circle cx="276.2" cy="559.0" r="2.8"/><circle cx="276.4" cy="555.8" r="2.8"/><circle cx="276.7" cy="557.2" r="2.8"/><circle cx="276.9" cy="560.5" r="2.8"/><circle cx="277.1" cy="555.8" r="2.8"/><circle cx="277.3" cy="558.5" r="2.8"/><circle cx="277.6" cy="555.7" r="2.8"/><circle cx="277.8" cy="556.5" r="2.8"/><circle cx="278.0" cy="557.6" r="2.8"/><circle cx="278.3" cy="558.3" r="2.8"/><circle cx="278.5" cy="555.6" r="2.8"/><circle cx="278.7" cy="554.5" r="2.8"/><circle cx="278.9" cy="559.4" r="2.8"/><circle cx="279.2" cy="556.8" r="2.8"/><circle cx="279.4" cy="557.9" r="2.8"/><circle cx="279.6" cy="558.1" r="2.8"/><circle cx="279.9" cy="557.8" r="2.8"/><circle cx="280.1" cy="555.8" r="2.8"/><circle cx="280.3" cy="556.0" r="2.8"/><circle cx="280.5" cy="553.2" r="2.8"/><circle cx="280.8" cy="556.5" r="2.8"/><circle cx="281.0" cy="555.2" r="2.8"/><circle cx="281.2" cy="556.0" r="2.8"/><circle cx="281.5" cy="559.7" r="2.8"/><circle cx="281.7" cy="557.3" r="2.8"/><circle cx="281.9" cy="556.1" r="2.8"/><circle cx="282.1" cy="553.3" r="2.8"/><circle cx="282.4" cy="557.3" r="2.8"/><circle cx="282.6" cy="558.8" r="2.8"/><circle cx="282.8" cy="554.2" r="2.8"/><circle cx="283.1" cy="556.6" r="2.8"/><circle cx="283.3" cy="554.8" r="2.8"/><circle cx="283.5" cy="555.4" r="2.8"/><circle cx="283.7" cy="555.0" r="2.8"/><circle cx="284.0" cy="552.6" r="2.8"/><circle cx="284.2" cy="554.7" r="2.8"/><circle cx="284.4" cy="552.5" r="2.8"/><circle cx="284.7" cy="558.3" r="2.8"/><circle cx="284.9" cy="557.6" r="2.8"/><circle cx="285.1" cy="555.7" r="2.8"/><circle cx="285.3" cy="556.1" r="2.8"/><circle cx="285.6" cy="555.7" r="2.8"/><circle cx="285.8" cy="555.9" r="2.8"/><circle cx="286.0" cy="555.9" r="2.8"/><circle cx="286.3" cy="555.0" r="2.8"/><circle cx="286.5" cy="555.2" r="2.8"/><circle cx="286.7" cy="552.9" r="2.8"/><circle cx="286.9" cy="553.5" r="2.8"/><circle cx="287.2" cy="554.3" r="2.8"/><circle cx="287.4" cy="555.9" r="2.8"/><circle cx="287.6" cy="554.7" r="2.8"/><circle cx="287.9" cy="559.1" r="2.8"/><circle cx="288.1" cy="555.1" r="2.8"/><circle cx="288.3" cy="554.8" r="2.8"/><circle cx="288.5" cy="556.3" r="2.8"/><circle cx="288.8" cy="557.4" r="2.8"/><circle cx="289.0" cy="559.0" r="2.8"/><circle cx="289.2" cy="557.3" r="2.8"/><circle cx="289.5" cy="554.3" r="2.8"/><circle cx="289.7" cy="555.2" r="2.8"/><circle cx="289.9" cy="557.5" r="2.8"/><circle cx="290.1" cy="556.0" r="2.8"/><circle cx="290.4" cy="557.1" r="2.8"/><circle cx="290.6" cy="555.4" r="2.8"/><circle cx="290.8" cy="558.6" r="2.8"/><circle cx="291.1" cy="558.4" r="2.8"/><circle cx="291.3" cy="557.8" r="2.8"/><circle cx="291.5" cy="555.9" r="2.8"/><circle cx="291.7" cy="552.5" r="2.8"/><circle cx="292.0" cy="553.1" r="2.8"/><circle cx="292.2" cy="556.3" r="2.8"/><circle cx="292.4" cy="557.0" r="2.8"/><circle cx="292.7" cy="550.1" r="2.8"/><circle cx="292.9" cy="554.8" r="2.8"/><circle cx="293.1" cy="558.0" r="2.8"/><circle cx="293.3" cy="557.6" r="2.8"/><circle cx="293.6" cy="554.9" r="2.8"/><circle cx="293.8" cy="557.1" r="2.8"/><circle cx="294.0" cy="556.0" r="2.8"/><circle cx="294.3" cy="555.5" r="2.8"/><circle cx="294.5" cy="558.1" r="2.8"/><circle cx="294.7" cy="558.2" r="2.8"/><circle cx="294.9" cy="555.0" r="2.8"/><circle cx="295.2" cy="554.3" r="2.8"/><circle cx="295.4" cy="553.6" r="2.8"/><circle cx="295.6" cy="553.4" r="2.8"/><circle cx="295.9" cy="558.8" r="2.8"/><circle cx="296.1" cy="559.8" r="2.8"/><circle cx="296.3" cy="556.7" r="2.8"/><circle cx="296.5" cy="558.4" r="2.8"/><circle cx="296.8" cy="555.1" r="2.8"/><circle cx="297.0" cy="556.3" r="2.8"/><circle cx="297.2" cy="558.2" r="2.8"/><circle cx="297.4" cy="557.1" r="2.8"/><circle cx="297.7" cy="556.5" r="2.8"/><circle cx="297.9" cy="553.5" r="2.8"/><circle cx="298.1" cy="553.9" r="2.8"/><circle cx="298.4" cy="555.9" r="2.8"/><circle cx="298.6" cy="555.7" r="2.8"/><circle cx="298.8" cy="556.7" r="2.8"/><circle cx="299.0" cy="555.7" r="2.8"/><circle cx="299.3" cy="556.5" r="2.8"/><circle cx="299.5" cy="557.1" r="2.8"/><circle cx="299.7" cy="558.0" r="2.8"/><circle cx="300.0" cy="557.2" r="2.8"/><circle cx="300.2" cy="556.1" r="2.8"/><circle cx="300.4" cy="556.7" r="2.8"/><circle cx="300.6" cy="559.0" r="2.8"/><circle cx="300.9" cy="556.9" r="2.8"/><circle cx="301.1" cy="555.5" r="2.8"/><circle cx="301.3" cy="555.5" r="2.8"/><circle cx="301.6" cy="558.1" r="2.8"/><circle cx="301.8" cy="558.6" r="2.8"/><circle cx="302.0" cy="560.0" r="2.8"/><circle cx="302.2" cy="557.1" r="2.8"/><circle cx="302.5" cy="560.4" r="2.8"/><circle cx="302.7" cy="557.1" r="2.8"/><circle cx="302.9" cy="557.4" r="2.8"/><circle cx="303.2" cy="556.8" r="2.8"/><circle cx="303.4" cy="559.0" r="2.8"/><circle cx="303.6" cy="560.1" r="2.8"/><circle cx="303.8" cy="558.1" r="2.8"/><circle cx="304.1" cy="557.2" r="2.8"/><circle cx="304.3" cy="555.3" r="2.8"/><circle cx="304.5" cy="558.6" r="2.8"/><circle cx="304.8" cy="557.7" r="2.8"/><circle cx="305.0" cy="558.1" r="2.8"/><circle cx="305.2" cy="557.3" r="2.8"/><circle cx="305.4" cy="556.9" r="2.8"/><circle cx="305.7" cy="557.8" r="2.8"/><circle cx="305.9" cy="559.5" r="2.8"/><circle cx="306.1" cy="560.6" r="2.8"/><circle cx="306.4" cy="558.8" r="2.8"/><circle cx="306.6" cy="559.5" r="2.8"/><circle cx="306.8" cy="558.6" r="2.8"/><circle cx="307.0" cy="558.8" r="2.8"/><circle cx="307.3" cy="556.5" r="2.8"/><circle cx="307.5" cy="560.8" r="2.8"/><circle cx="307.7" cy="560.3" r="2.8"/><circle cx="308.0" cy="562.0" r="2.8"/><circle cx="308.2" cy="558.2" r="2.8"/><circle cx="308.4" cy="559.6" r="2.8"/><circle cx="308.6" cy="557.7" r="2.8"/><circle cx="308.9" cy="560.0" r="2.8"/><circle cx="309.1" cy="559.4" r="2.8"/><circle cx="309.3" cy="561.0" r="2.8"/><circle cx="309.6" cy="559.5" r="2.8"/><circle cx="309.8" cy="561.0" r="2.8"/><circle cx="310.0" cy="558.9" r="2.8"/><circle cx="310.2" cy="561.1" r="2.8"/><circle cx="310.5" cy="559.4" r="2.8"/><circle cx="310.7" cy="559.2" r="2.8"/><circle cx="310.9" cy="560.3" r="2.8"/><circle cx="311.2" cy="560.9" r="2.8"/><circle cx="311.4" cy="557.6" r="2.8"/><circle cx="311.6" cy="557.4" r="2.8"/><circle cx="311.8" cy="560.7" r="2.8"/><circle cx="312.1" cy="560.3" r="2.8"/><circle cx="312.3" cy="556.7" r="2.8"/><circle cx="312.5" cy="557.3" r="2.8"/><circle cx="312.8" cy="559.2" r="2.8"/><circle cx="313.0" cy="561.3" r="2.8"/><circle cx="313.2" cy="561.2" r="2.8"/><circle cx="313.4" cy="562.7" r="2.8"/><circle cx="313.7" cy="563.1" r="2.8"/><circle cx="313.9" cy="565.5" r="2.8"/><circle cx="314.1" cy="558.3" r="2.8"/><circle cx="314.4" cy="561.0" r="2.8"/><circle cx="314.6" cy="563.2" r="2.8"/><circle cx="314.8" cy="558.8" r="2.8"/><circle cx="315.0" cy="558.6" r="2.8"/><circle cx="315.3" cy="561.7" r="2.8"/><circle cx="315.5" cy="563.5" r="2.8"/><circle cx="315.7" cy="563.8" r="2.8"/><circle cx="316.0" cy="558.1" r="2.8"/><circle cx="316.2" cy="559.3" r="2.8"/><circle cx="316.4" cy="561.4" r="2.8"/><circle cx="316.6" cy="560.7" r="2.8"/><circle cx="316.9" cy="562.4" r="2.8"/><circle cx="317.1" cy="562.1" r="2.8"/><circle cx="317.3" cy="565.2" r="2.8"/><circle cx="317.6" cy="561.8" r="2.8"/><circle cx="317.8" cy="562.3" r="2.8"/><circle cx="318.0" cy="562.2" r="2.8"/><circle cx="318.2" cy="564.2" r="2.8"/><circle cx="318.5" cy="560.0" r="2.8"/><circle cx="318.7" cy="562.9" r="2.8"/><circle cx="318.9" cy="560.8" r="2.8"/><circle cx="319.2" cy="559.6" r="2.8"/><circle cx="319.4" cy="564.6" r="2.8"/><circle cx="319.6" cy="563.4" r="2.8"/><circle cx="319.8" cy="565.1" r="2.8"/><circle cx="320.1" cy="563.0" r="2.8"/><circle cx="320.3" cy="563.8" r="2.8"/><circle cx="320.5" cy="562.9" r="2.8"/><circle cx="320.8" cy="563.8" r="2.8"/><circle cx="321.0" cy="562.0" r="2.8"/><circle cx="321.2" cy="566.1" r="2.8"/><circle cx="321.4" cy="561.2" r="2.8"/><circle cx="321.7" cy="566.2" r="2.8"/><circle cx="321.9" cy="562.6" r="2.8"/><circle cx="322.1" cy="564.7" r="2.8"/><circle cx="322.4" cy="563.3" r="2.8"/><circle cx="322.6" cy="564.0" r="2.8"/><circle cx="322.8" cy="566.0" r="2.8"/><circle cx="323.0" cy="563.5" r="2.8"/><circle cx="323.3" cy="561.5" r="2.8"/><circle cx="323.5" cy="563.8" r="2.8"/><circle cx="323.7" cy="564.6" r="2.8"/><circle cx="324.0" cy="558.7" r="2.8"/><circle cx="324.2" cy="565.3" r="2.8"/><circle cx="324.4" cy="565.6" r="2.8"/><circle cx="324.6" cy="560.2" r="2.8"/><circle cx="324.9" cy="563.3" r="2.8"/><circle cx="325.1" cy="565.2" r="2.8"/><circle cx="325.3" cy="561.5" r="2.8"/><circle cx="325.6" cy="562.9" r="2.8"/><circle cx="325.8" cy="563.1" r="2.8"/><circle cx="326.0" cy="564.9" r="2.8"/><circle cx="326.2" cy="566.0" r="2.8"/><circle cx="326.5" cy="563.9" r="2.8"/><circle cx="326.7" cy="564.1" r="2.8"/><circle cx="326.9" cy="565.8" r="2.8"/><circle cx="327.2" cy="565.1" r="2.8"/><circle cx="327.4" cy="563.9" r="2.8"/><circle cx="327.6" cy="566.7" r="2.8"/><circle cx="327.8" cy="561.4" r="2.8"/><circle cx="328.1" cy="564.5" r="2.8"/><circle cx="328.3" cy="563.4" r="2.8"/><circle cx="328.5" cy="563.3" r="2.8"/><circle cx="328.8" cy="564.7" r="2.8"/><circle cx="329.0" cy="564.4" r="2.8"/><circle cx="329.2" cy="569.1" r="2.8"/><circle cx="329.4" cy="565.7" r="2.8"/><circle cx="329.7" cy="565.1" r="2.8"/><circle cx="329.9" cy="567.7" r="2.8"/><circle cx="330.1" cy="566.5" r="2.8"/><circle cx="330.4" cy="561.0" r="2.8"/><circle cx="330.6" cy="564.8" r="2.8"/><circle cx="330.8" cy="566.1" r="2.8"/><circle cx="331.0" cy="563.5" r="2.8"/><circle cx="331.3" cy="565.3" r="2.8"/><circle cx="331.5" cy="563.9" r="2.8"/><circle cx="331.7" cy="565.5" r="2.8"/><circle cx="332.0" cy="561.7" r="2.8"/><circle cx="332.2" cy="561.1" r="2.8"/><circle cx="332.4" cy="563.8" r="2.8"/><circle cx="332.6" cy="565.3" r="2.8"/><circle cx="332.9" cy="567.5" r="2.8"/><circle cx="333.1" cy="564.4" r="2.8"/><circle cx="333.3" cy="563.5" r="2.8"/><circle cx="333.6" cy="566.8" r="2.8"/><circle cx="333.8" cy="565.1" r="2.8"/><circle cx="334.0" cy="568.6" r="2.8"/><circle cx="334.2" cy="564.9" r="2.8"/><circle cx="334.5" cy="561.4" r="2.8"/><circle cx="334.7" cy="563.6" r="2.8"/><circle cx="334.9" cy="563.3" r="2.8"/><circle cx="335.2" cy="562.5" r="2.8"/><circle cx="335.4" cy="563.7" r="2.8"/><circle cx="335.6" cy="563.9" r="2.8"/><circle cx="335.8" cy="564.7" r="2.8"/><circle cx="336.1" cy="564.2" r="2.8"/><circle cx="336.3" cy="566.1" r="2.8"/><circle cx="336.5" cy="566.2" r="2.8"/><circle cx="336.8" cy="565.7" r="2.8"/><circle cx="337.0" cy="565.8" r="2.8"/><circle cx="337.2" cy="561.8" r="2.8"/><circle cx="337.4" cy="562.2" r="2.8"/><circle cx="337.7" cy="563.8" r="2.8"/><circle cx="337.9" cy="566.0" r="2.8"/><circle cx="338.1" cy="562.7" r="2.8"/><circle cx="338.4" cy="564.7" r="2.8"/><circle cx="338.6" cy="566.1" r="2.8"/><circle cx="338.8" cy="569.4" r="2.8"/><circle cx="339.0" cy="566.1" r="2.8"/><circle cx="339.3" cy="564.6" r="2.8"/><circle cx="339.5" cy="567.8" r="2.8"/><circle cx="339.7" cy="566.1" r="2.8"/><circle cx="340.0" cy="565.1" r="2.8"/><circle cx="340.2" cy="567.9" r="2.8"/><circle cx="340.4" cy="564.0" r="2.8"/><circle cx="340.6" cy="566.1" r="2.8"/><circle cx="340.9" cy="565.9" r="2.8"/><circle cx="341.1" cy="567.5" r="2.8"/><circle cx="341.3" cy="563.6" r="2.8"/><circle cx="341.6" cy="563.3" r="2.8"/><circle cx="341.8" cy="565.1" r="2.8"/><circle cx="342.0" cy="565.3" r="2.8"/><circle cx="342.2" cy="566.0" r="2.8"/><circle cx="342.5" cy="565.2" r="2.8"/><circle cx="342.7" cy="566.7" r="2.8"/><circle cx="342.9" cy="567.3" r="2.8"/><circle cx="343.2" cy="566.4" r="2.8"/><circle cx="343.4" cy="563.9" r="2.8"/><circle cx="343.6" cy="568.2" r="2.8"/><circle cx="343.8" cy="563.0" r="2.8"/><circle cx="344.1" cy="565.6" r="2.8"/><circle cx="344.3" cy="567.7" r="2.8"/><circle cx="344.5" cy="564.8" r="2.8"/><circle cx="344.8" cy="568.6" r="2.8"/><circle cx="345.0" cy="569.8" r="2.8"/><circle cx="345.2" cy="569.1" r="2.8"/><circle cx="345.4" cy="566.9" r="2.8"/><circle cx="345.7" cy="568.0" r="2.8"/><circle cx="345.9" cy="565.1" r="2.8"/><circle cx="346.1" cy="566.9" r="2.8"/><circle cx="346.4" cy="567.0" r="2.8"/><circle cx="346.6" cy="566.3" r="2.8"/><circle cx="346.8" cy="566.5" r="2.8"/><circle cx="347.0" cy="565.8" r="2.8"/><circle cx="347.3" cy="562.4" r="2.8"/><circle cx="347.5" cy="567.0" r="2.8"/><circle cx="347.7" cy="566.8" r="2.8"/><circle cx="348.0" cy="570.2" r="2.8"/><circle cx="348.2" cy="567.6" r="2.8"/><circle cx="348.4" cy="566.4" r="2.8"/><circle cx="348.6" cy="568.0" r="2.8"/><circle cx="348.9" cy="567.5" r="2.8"/><circle cx="349.1" cy="566.3" r="2.8"/><circle cx="349.3" cy="565.6" r="2.8"/><circle cx="349.6" cy="563.5" r="2.8"/><circle cx="349.8" cy="566.6" r="2.8"/><circle cx="350.0" cy="569.5" r="2.8"/><circle cx="350.2" cy="562.7" r="2.8"/><circle cx="350.5" cy="564.5" r="2.8"/><circle cx="350.7" cy="567.9" r="2.8"/><circle cx="350.9" cy="566.8" r="2.8"/><circle cx="351.2" cy="567.2" r="2.8"/><circle cx="351.4" cy="562.8" r="2.8"/><circle cx="351.6" cy="565.3" r="2.8"/><circle cx="351.8" cy="567.4" r="2.8"/><circle cx="352.1" cy="567.6" r="2.8"/><circle cx="352.3" cy="567.1" r="2.8"/><circle cx="352.5" cy="564.8" r="2.8"/><circle cx="352.8" cy="567.5" r="2.8"/><circle cx="353.0" cy="564.2" r="2.8"/><circle cx="353.2" cy="564.7" r="2.8"/><circle cx="353.4" cy="564.3" r="2.8"/><circle cx="353.7" cy="569.3" r="2.8"/><circle cx="353.9" cy="565.7" r="2.8"/><circle cx="354.1" cy="566.7" r="2.8"/><circle cx="354.4" cy="562.3" r="2.8"/><circle cx="354.6" cy="568.7" r="2.8"/><circle cx="354.8" cy="567.5" r="2.8"/><circle cx="355.0" cy="563.4" r="2.8"/><circle cx="355.3" cy="563.5" r="2.8"/><circle cx="355.5" cy="569.8" r="2.8"/><circle cx="355.7" cy="564.8" r="2.8"/><circle cx="356.0" cy="570.2" r="2.8"/><circle cx="356.2" cy="565.7" r="2.8"/><circle cx="356.4" cy="561.8" r="2.8"/><circle cx="356.6" cy="568.8" r="2.8"/><circle cx="356.9" cy="567.6" r="2.8"/><circle cx="357.1" cy="568.0" r="2.8"/><circle cx="357.3" cy="565.7" r="2.8"/><circle cx="357.6" cy="566.3" r="2.8"/></g>
<path d="M17.6,566.0 22.5,565.4 23.9,565.0 25.0,564.4 26.7,562.8 29.8,558.0 30.4,557.4 30.9,557.1 31.5,557.2 32.1,557.7 34.6,561.1 35.9,562.5 37.3,563.3 39.1,563.6 40.9,563.5 43.2,563.1 47.7,561.8 51.4,559.9 54.4,557.6 56.6,555.1 58.5,551.9 60.2,548.1 61.7,543.3 62.8,539.1 63.8,533.8 67.5,510.8 68.2,507.3 68.8,505.0 69.5,504.1 69.9,504.1 70.3,504.5 71.0,506.0 72.6,510.6 73.3,512.0 73.6,512.2 74.0,512.1 74.5,511.1 75.2,507.8 75.8,502.6 77.7,476.8 78.4,470.8 78.8,469.9 79.7,469.3 80.1,468.5 81.6,463.1 82.3,461.6 82.6,461.5 83.0,461.7 84.2,463.7 84.6,464.2 85.1,464.2 85.5,463.6 86.1,462.0 88.0,455.7 88.6,454.7 89.6,453.8 90.1,452.9 90.6,450.9 90.9,448.3 91.7,439.1 92.5,423.8 93.1,402.7 94.4,350.8 94.9,341.4 95.1,339.4 95.4,339.0 95.7,340.2 96.0,344.2 96.7,358.9 99.6,466.7 100.5,492.1 101.5,511.8 102.7,526.4 103.4,532.3 104.0,536.5 104.9,540.3 105.9,543.3 107.0,545.6 108.2,547.1 109.1,547.6 109.9,547.9 110.8,547.9 113.3,547.4 114.1,547.6 114.9,548.0 116.3,549.5 119.8,554.8 121.9,557.4 124.6,559.6 127.7,561.2 129.8,561.9 132.1,562.4 137.4,563.1 142.8,563.1 147.4,562.5 150.1,561.6 152.6,560.4 154.9,558.8 157.2,556.9 159.2,554.8 161.2,552.3 168.9,541.9 170.6,540.0 172.2,538.5 174.4,537.0 178.7,534.8 180.6,533.6 186.8,528.3 188.1,527.7 189.1,527.5 190.1,527.8 191.2,528.4 194.8,532.2 196.3,533.1 197.1,533.3 197.8,533.2 200.3,531.8 200.9,531.9 201.4,532.2 202.2,533.5 202.9,535.5 205.6,545.2 207.0,549.5 208.3,552.8 209.8,555.5 211.8,558.1 214.3,560.2 217.2,561.7 221.0,562.9 226.2,563.7 232.4,564.1 239.3,564.0 246.3,563.5 252.4,562.7 258.5,561.5 275.3,557.3 279.9,556.3 284.8,555.6 289.3,555.4 293.6,555.8 298.2,556.6 318.1,562.0 323.7,563.3 329.2,564.3 335.4,565.2 341.9,565.8 349.2,566.3 357.9,566.7" fill="none" stroke="#ff0a14" stroke-width="1.35" stroke-linejoin="round"/>
<path d="M142.0,478.8 147.3,478.5 150.8,477.8 153.6,476.8 158.4,474.2 160.4,473.7 162.4,474.2 167.2,476.8 170.0,477.8 173.5,478.5 178.9,478.8 211.3,479.0 358.5,479.0" fill="none" stroke="#1a1a1a" stroke-width="0.80"/>
<path d="M142.0,478.6 168.4,478.1 185.3,477.3 191.5,476.8 196.8,476.0 201.3,475.0 205.1,473.9 208.0,472.5 210.7,470.9 213.2,468.9 215.3,466.7 217.2,464.1 219.1,461.0 225.4,448.6 226.8,446.7 227.5,446.2 228.2,446.1 228.9,446.2 229.6,446.6 230.9,448.3 237.7,461.6 239.8,465.0 242.1,467.8 244.8,470.3 248.0,472.3 251.5,473.9 255.5,475.1 260.5,476.1 266.8,476.9 274.3,477.5 283.8,478.0 311.2,478.6 358.5,478.8" fill="none" stroke="#1a1a1a" stroke-width="0.80"/>
<path d="M142.0,479.0 214.5,478.8 226.2,478.5 232.5,477.8 234.4,477.2 235.9,476.5 237.1,475.4 238.2,473.9 239.2,471.9 240.1,469.3 243.0,459.2 243.5,458.1 244.0,457.6 244.6,458.0 245.1,459.2 248.1,469.6 249.0,472.2 250.0,474.0 251.1,475.5 252.3,476.5 253.9,477.3 255.9,477.8 262.8,478.5 275.6,478.8 358.5,479.0" fill="none" stroke="#1a1a1a" stroke-width="0.80"/>
<path d="M142.0,478.9 184.4,478.6 207.6,478.0 215.5,477.5 221.7,476.9 226.7,476.0 230.6,474.8 233.8,473.4 236.5,471.5 238.6,469.2 240.7,466.2 242.4,462.6 244.0,458.4 249.0,441.8 250.1,439.6 250.7,439.0 251.1,438.9 251.5,439.0 252.0,439.5 253.1,441.7 258.1,458.2 259.7,462.5 261.5,466.1 263.5,469.1 265.8,471.5 268.4,473.4 271.5,474.8 275.4,476.0 280.3,476.8 286.4,477.5 294.2,478.0 317.1,478.6 358.5,478.9" fill="none" stroke="#1a1a1a" stroke-width="0.80"/>
<path d="M142.0,478.9 189.0,478.6 214.7,478.0 223.5,477.5 230.2,476.9 235.6,476.0 240.0,474.8 243.4,473.3 246.2,471.4 248.6,468.9 250.8,465.7 252.7,462.0 254.5,457.5 260.0,440.0 261.1,437.9 261.6,437.3 262.2,437.1 262.7,437.2 263.3,437.8 264.5,440.1 269.9,457.3 271.5,461.5 273.3,465.1 275.3,468.3 277.5,470.7 279.9,472.6 282.7,474.1 286.4,475.4 291.0,476.4 296.7,477.1 303.7,477.7 323.9,478.4 358.5,478.8" fill="none" stroke="#1a1a1a" stroke-width="0.80"/>
<path d="M142.0,478.9 203.8,478.5 220.9,478.1 233.1,477.4 242.3,476.5 249.0,475.1 251.7,474.2 254.2,473.1 256.3,471.8 258.1,470.4 259.6,468.7 260.8,467.0 261.9,464.9 263.0,462.3 264.9,455.4 266.5,446.3 268.0,434.6 269.3,420.7 273.8,362.9 274.8,355.0 275.3,352.7 275.7,352.2 276.1,352.7 276.6,355.1 277.6,363.0 281.8,417.7 283.0,430.9 284.4,442.6 285.7,451.4 287.2,458.3 288.8,463.4 290.9,467.4 292.1,469.1 293.6,470.6 295.3,472.0 297.2,473.1 302.0,475.0 307.9,476.3 315.6,477.2 325.8,477.9 339.4,478.3 358.5,478.6" fill="none" stroke="#1f4fff" stroke-width="1.20"/>
<path d="M142.0,479.0 241.3,478.8 263.0,478.6 276.8,478.2 286.1,477.6 293.0,476.5 298.3,475.1 306.0,472.0 309.0,471.5 310.6,471.6 312.2,472.1 318.5,474.6 321.7,475.7 325.0,476.5 328.5,477.2 333.6,477.7 339.8,478.1 358.5,478.7" fill="none" stroke="#1a1a1a" stroke-width="0.80"/>
<path d="M142.0,479.0 306.7,478.8 341.2,478.6 358.5,478.2" fill="none" stroke="#1a1a1a" stroke-width="0.80"/>
<path d="M142.0,479.0 292.5,478.8 358.5,478.5" fill="none" stroke="#1a1a1a" stroke-width="0.80"/>
<path d="M142.0,479.0 358.5,478.9" fill="none" stroke="#1f4fff" stroke-width="1.20"/>
<path d="M142.0,479.0 358.5,478.9" fill="none" stroke="#1a1a1a" stroke-width="0.80"/>
<line x1="142" y1="479.5" x2="358.4" y2="479.5" stroke="#1f4fff" stroke-width="1.4"/>
<g fill="none" stroke="#333d48" stroke-width="0.65"><circle cx="142.5" cy="477.6" r="1.8"/><circle cx="143.1" cy="477.9" r="1.8"/><circle cx="143.7" cy="477.3" r="1.8"/><circle cx="144.3" cy="476.7" r="1.8"/><circle cx="144.9" cy="477.1" r="1.8"/><circle cx="145.5" cy="476.5" r="1.8"/><circle cx="146.1" cy="477.4" r="1.8"/><circle cx="146.7" cy="478.5" r="1.8"/><circle cx="147.3" cy="476.8" r="1.8"/><circle cx="147.9" cy="476.6" r="1.8"/><circle cx="148.5" cy="477.5" r="1.8"/><circle cx="149.1" cy="477.3" r="1.8"/><circle cx="149.7" cy="476.9" r="1.8"/><circle cx="150.3" cy="475.8" r="1.8"/><circle cx="150.9" cy="476.5" r="1.8"/><circle cx="151.5" cy="476.9" r="1.8"/><circle cx="152.1" cy="474.9" r="1.8"/><circle cx="152.7" cy="475.4" r="1.8"/><circle cx="153.3" cy="473.9" r="1.8"/><circle cx="153.9" cy="474.1" r="1.8"/><circle cx="154.4" cy="473.3" r="1.8"/><circle cx="155.0" cy="474.4" r="1.8"/><circle cx="155.6" cy="473.1" r="1.8"/><circle cx="156.2" cy="474.1" r="1.8"/><circle cx="156.8" cy="473.7" r="1.8"/><circle cx="157.4" cy="473.0" r="1.8"/><circle cx="158.0" cy="470.6" r="1.8"/><circle cx="158.6" cy="472.1" r="1.8"/><circle cx="159.2" cy="472.3" r="1.8"/><circle cx="159.8" cy="472.3" r="1.8"/><circle cx="160.4" cy="470.7" r="1.8"/><circle cx="161.0" cy="471.7" r="1.8"/><circle cx="161.6" cy="471.4" r="1.8"/><circle cx="162.2" cy="471.7" r="1.8"/><circle cx="162.8" cy="473.6" r="1.8"/><circle cx="163.4" cy="472.2" r="1.8"/><circle cx="164.0" cy="473.2" r="1.8"/><circle cx="164.6" cy="474.4" r="1.8"/><circle cx="165.2" cy="473.4" r="1.8"/><circle cx="165.8" cy="474.1" r="1.8"/><circle cx="166.4" cy="474.6" r="1.8"/><circle cx="167.0" cy="474.9" r="1.8"/><circle cx="167.5" cy="474.0" r="1.8"/><circle cx="168.1" cy="475.4" r="1.8"/><circle cx="168.7" cy="476.7" r="1.8"/><circle cx="169.3" cy="474.3" r="1.8"/><circle cx="169.9" cy="476.6" r="1.8"/><circle cx="170.5" cy="476.0" r="1.8"/><circle cx="171.1" cy="475.5" r="1.8"/><circle cx="171.7" cy="477.9" r="1.8"/><circle cx="172.3" cy="476.9" r="1.8"/><circle cx="172.9" cy="475.2" r="1.8"/><circle cx="173.5" cy="476.3" r="1.8"/><circle cx="174.1" cy="476.8" r="1.8"/><circle cx="174.7" cy="476.1" r="1.8"/><circle cx="175.3" cy="476.9" r="1.8"/><circle cx="175.9" cy="476.2" r="1.8"/><circle cx="176.5" cy="476.9" r="1.8"/><circle cx="177.1" cy="477.6" r="1.8"/><circle cx="177.7" cy="475.6" r="1.8"/><circle cx="178.3" cy="476.4" r="1.8"/><circle cx="178.9" cy="475.8" r="1.8"/><circle cx="179.5" cy="476.3" r="1.8"/><circle cx="180.1" cy="475.1" r="1.8"/><circle cx="180.6" cy="475.6" r="1.8"/><circle cx="181.2" cy="475.9" r="1.8"/><circle cx="181.8" cy="476.8" r="1.8"/><circle cx="182.4" cy="477.0" r="1.8"/><circle cx="183.0" cy="474.7" r="1.8"/><circle cx="183.6" cy="475.1" r="1.8"/><circle cx="184.2" cy="476.4" r="1.8"/><circle cx="184.8" cy="474.0" r="1.8"/><circle cx="185.4" cy="475.3" r="1.8"/><circle cx="186.0" cy="475.5" r="1.8"/><circle cx="186.6" cy="476.7" r="1.8"/><circle cx="187.2" cy="476.1" r="1.8"/><circle cx="187.8" cy="475.1" r="1.8"/><circle cx="188.4" cy="475.0" r="1.8"/><circle cx="189.0" cy="475.1" r="1.8"/><circle cx="189.6" cy="476.6" r="1.8"/><circle cx="190.2" cy="474.7" r="1.8"/><circle cx="190.8" cy="474.8" r="1.8"/><circle cx="191.4" cy="475.3" r="1.8"/><circle cx="192.0" cy="474.7" r="1.8"/><circle cx="192.6" cy="474.6" r="1.8"/><circle cx="193.2" cy="473.6" r="1.8"/><circle cx="193.7" cy="474.5" r="1.8"/><circle cx="194.3" cy="474.0" r="1.8"/><circle cx="194.9" cy="475.4" r="1.8"/><circle cx="195.5" cy="474.8" r="1.8"/><circle cx="196.1" cy="474.0" r="1.8"/><circle cx="196.7" cy="474.5" r="1.8"/><circle cx="197.3" cy="473.5" r="1.8"/><circle cx="197.9" cy="474.6" r="1.8"/><circle cx="198.5" cy="473.5" r="1.8"/><circle cx="199.1" cy="473.9" r="1.8"/><circle cx="199.7" cy="472.0" r="1.8"/><circle cx="200.3" cy="473.3" r="1.8"/><circle cx="200.9" cy="471.3" r="1.8"/><circle cx="201.5" cy="470.8" r="1.8"/><circle cx="202.1" cy="472.1" r="1.8"/><circle cx="202.7" cy="471.4" r="1.8"/><circle cx="203.3" cy="472.1" r="1.8"/><circle cx="203.9" cy="473.7" r="1.8"/><circle cx="204.5" cy="470.7" r="1.8"/><circle cx="205.1" cy="470.6" r="1.8"/><circle cx="205.7" cy="471.1" r="1.8"/><circle cx="206.3" cy="471.1" r="1.8"/><circle cx="206.8" cy="470.1" r="1.8"/><circle cx="207.4" cy="469.8" r="1.8"/><circle cx="208.0" cy="470.2" r="1.8"/><circle cx="208.6" cy="469.7" r="1.8"/><circle cx="209.2" cy="467.9" r="1.8"/><circle cx="209.8" cy="468.3" r="1.8"/><circle cx="210.4" cy="468.0" r="1.8"/><circle cx="211.0" cy="466.5" r="1.8"/><circle cx="211.6" cy="467.2" r="1.8"/><circle cx="212.2" cy="465.6" r="1.8"/><circle cx="212.8" cy="466.7" r="1.8"/><circle cx="213.4" cy="465.3" r="1.8"/><circle cx="214.0" cy="464.6" r="1.8"/><circle cx="214.6" cy="463.2" r="1.8"/><circle cx="215.2" cy="462.9" r="1.8"/><circle cx="215.8" cy="460.4" r="1.8"/><circle cx="216.4" cy="460.3" r="1.8"/><circle cx="217.0" cy="460.7" r="1.8"/><circle cx="217.6" cy="457.4" r="1.8"/><circle cx="218.2" cy="459.0" r="1.8"/><circle cx="218.8" cy="455.6" r="1.8"/><circle cx="219.4" cy="456.6" r="1.8"/><circle cx="219.9" cy="453.9" r="1.8"/><circle cx="220.5" cy="454.1" r="1.8"/><circle cx="221.1" cy="452.1" r="1.8"/><circle cx="221.7" cy="449.2" r="1.8"/><circle cx="222.3" cy="450.3" r="1.8"/><circle cx="222.9" cy="449.0" r="1.8"/><circle cx="223.5" cy="446.2" r="1.8"/><circle cx="224.1" cy="444.6" r="1.8"/><circle cx="224.7" cy="443.3" r="1.8"/><circle cx="225.3" cy="441.3" r="1.8"/><circle cx="225.9" cy="442.1" r="1.8"/><circle cx="226.5" cy="439.6" r="1.8"/><circle cx="227.1" cy="439.2" r="1.8"/><circle cx="227.7" cy="438.0" r="1.8"/><circle cx="228.3" cy="437.7" r="1.8"/><circle cx="228.9" cy="436.9" r="1.8"/><circle cx="229.5" cy="439.2" r="1.8"/><circle cx="230.1" cy="438.2" r="1.8"/><circle cx="230.7" cy="439.5" r="1.8"/><circle cx="231.3" cy="439.2" r="1.8"/><circle cx="231.9" cy="439.1" r="1.8"/><circle cx="232.5" cy="440.1" r="1.8"/><circle cx="233.0" cy="440.5" r="1.8"/><circle cx="233.6" cy="441.7" r="1.8"/><circle cx="234.2" cy="441.9" r="1.8"/><circle cx="234.8" cy="442.5" r="1.8"/><circle cx="235.4" cy="441.9" r="1.8"/><circle cx="236.0" cy="442.6" r="1.8"/><circle cx="236.6" cy="444.8" r="1.8"/><circle cx="237.2" cy="442.4" r="1.8"/><circle cx="237.8" cy="441.5" r="1.8"/><circle cx="238.4" cy="441.8" r="1.8"/><circle cx="239.0" cy="441.5" r="1.8"/><circle cx="239.6" cy="437.2" r="1.8"/><circle cx="240.2" cy="436.2" r="1.8"/><circle cx="240.8" cy="433.2" r="1.8"/><circle cx="241.4" cy="429.3" r="1.8"/><circle cx="242.0" cy="428.3" r="1.8"/><circle cx="242.6" cy="424.4" r="1.8"/><circle cx="243.2" cy="421.5" r="1.8"/><circle cx="243.8" cy="418.3" r="1.8"/><circle cx="244.4" cy="417.8" r="1.8"/><circle cx="245.0" cy="416.0" r="1.8"/><circle cx="245.6" cy="416.0" r="1.8"/><circle cx="246.1" cy="415.0" r="1.8"/><circle cx="246.7" cy="414.8" r="1.8"/><circle cx="247.3" cy="416.8" r="1.8"/><circle cx="247.9" cy="414.6" r="1.8"/><circle cx="248.5" cy="414.6" r="1.8"/><circle cx="249.1" cy="413.5" r="1.8"/><circle cx="249.7" cy="412.3" r="1.8"/><circle cx="250.3" cy="411.4" r="1.8"/><circle cx="250.9" cy="411.8" r="1.8"/><circle cx="251.5" cy="410.6" r="1.8"/><circle cx="252.1" cy="410.6" r="1.8"/><circle cx="252.7" cy="410.9" r="1.8"/><circle cx="253.3" cy="412.2" r="1.8"/><circle cx="253.9" cy="412.2" r="1.8"/><circle cx="254.5" cy="412.3" r="1.8"/><circle cx="255.1" cy="411.8" r="1.8"/><circle cx="255.7" cy="411.3" r="1.8"/><circle cx="256.3" cy="413.4" r="1.8"/><circle cx="256.9" cy="413.2" r="1.8"/><circle cx="257.5" cy="411.9" r="1.8"/><circle cx="258.1" cy="412.0" r="1.8"/><circle cx="258.7" cy="411.5" r="1.8"/><circle cx="259.2" cy="410.7" r="1.8"/><circle cx="259.8" cy="410.0" r="1.8"/><circle cx="260.4" cy="407.9" r="1.8"/><circle cx="261.0" cy="409.0" r="1.8"/><circle cx="261.6" cy="406.0" r="1.8"/><circle cx="262.2" cy="407.4" r="1.8"/><circle cx="262.8" cy="406.8" r="1.8"/><circle cx="263.4" cy="407.0" r="1.8"/><circle cx="264.0" cy="407.8" r="1.8"/><circle cx="264.6" cy="407.2" r="1.8"/><circle cx="265.2" cy="404.4" r="1.8"/><circle cx="265.8" cy="403.2" r="1.8"/><circle cx="266.4" cy="404.4" r="1.8"/><circle cx="267.0" cy="401.1" r="1.8"/><circle cx="267.6" cy="399.8" r="1.8"/><circle cx="268.2" cy="397.6" r="1.8"/><circle cx="268.8" cy="391.7" r="1.8"/><circle cx="269.4" cy="386.8" r="1.8"/><circle cx="270.0" cy="383.5" r="1.8"/><circle cx="270.6" cy="376.6" r="1.8"/><circle cx="271.2" cy="368.3" r="1.8"/><circle cx="271.7" cy="359.4" r="1.8"/><circle cx="272.3" cy="349.3" r="1.8"/><circle cx="272.9" cy="340.6" r="1.8"/><circle cx="273.5" cy="336.0" r="1.8"/><circle cx="274.1" cy="332.1" r="1.8"/><circle cx="274.7" cy="330.7" r="1.8"/><circle cx="275.3" cy="333.5" r="1.8"/><circle cx="275.9" cy="335.2" r="1.8"/><circle cx="276.5" cy="339.3" r="1.8"/><circle cx="277.1" cy="343.2" r="1.8"/><circle cx="277.7" cy="350.1" r="1.8"/><circle cx="278.3" cy="357.5" r="1.8"/><circle cx="278.9" cy="366.0" r="1.8"/><circle cx="279.5" cy="375.8" r="1.8"/><circle cx="280.1" cy="383.7" r="1.8"/><circle cx="280.7" cy="393.2" r="1.8"/><circle cx="281.3" cy="401.3" r="1.8"/><circle cx="281.9" cy="410.5" r="1.8"/><circle cx="282.5" cy="414.4" r="1.8"/><circle cx="283.1" cy="422.8" r="1.8"/><circle cx="283.7" cy="427.7" r="1.8"/><circle cx="284.3" cy="432.9" r="1.8"/><circle cx="284.8" cy="436.1" r="1.8"/><circle cx="285.4" cy="441.0" r="1.8"/><circle cx="286.0" cy="445.6" r="1.8"/><circle cx="286.6" cy="447.8" r="1.8"/><circle cx="287.2" cy="450.6" r="1.8"/><circle cx="287.8" cy="452.5" r="1.8"/><circle cx="288.4" cy="455.7" r="1.8"/><circle cx="289.0" cy="456.3" r="1.8"/><circle cx="289.6" cy="455.8" r="1.8"/><circle cx="290.2" cy="458.4" r="1.8"/><circle cx="290.8" cy="458.3" r="1.8"/><circle cx="291.4" cy="458.0" r="1.8"/><circle cx="292.0" cy="461.3" r="1.8"/><circle cx="292.6" cy="463.7" r="1.8"/><circle cx="293.2" cy="463.1" r="1.8"/><circle cx="293.8" cy="462.5" r="1.8"/><circle cx="294.4" cy="463.2" r="1.8"/><circle cx="295.0" cy="465.5" r="1.8"/><circle cx="295.6" cy="465.0" r="1.8"/><circle cx="296.2" cy="465.2" r="1.8"/><circle cx="296.8" cy="465.3" r="1.8"/><circle cx="297.4" cy="465.6" r="1.8"/><circle cx="297.9" cy="466.5" r="1.8"/><circle cx="298.5" cy="466.4" r="1.8"/><circle cx="299.1" cy="466.2" r="1.8"/><circle cx="299.7" cy="465.2" r="1.8"/><circle cx="300.3" cy="466.6" r="1.8"/><circle cx="300.9" cy="465.6" r="1.8"/><circle cx="301.5" cy="467.2" r="1.8"/><circle cx="302.1" cy="465.1" r="1.8"/><circle cx="302.7" cy="466.0" r="1.8"/><circle cx="303.3" cy="466.1" r="1.8"/><circle cx="303.9" cy="464.9" r="1.8"/><circle cx="304.5" cy="467.6" r="1.8"/><circle cx="305.1" cy="467.3" r="1.8"/><circle cx="305.7" cy="465.5" r="1.8"/><circle cx="306.3" cy="466.6" r="1.8"/><circle cx="306.9" cy="466.3" r="1.8"/><circle cx="307.5" cy="463.6" r="1.8"/><circle cx="308.1" cy="466.2" r="1.8"/><circle cx="308.7" cy="466.1" r="1.8"/><circle cx="309.3" cy="466.3" r="1.8"/><circle cx="309.9" cy="465.4" r="1.8"/><circle cx="310.5" cy="466.4" r="1.8"/><circle cx="311.0" cy="466.7" r="1.8"/><circle cx="311.6" cy="468.2" r="1.8"/><circle cx="312.2" cy="467.7" r="1.8"/><circle cx="312.8" cy="467.7" r="1.8"/><circle cx="313.4" cy="469.4" r="1.8"/><circle cx="314.0" cy="467.8" r="1.8"/><circle cx="314.6" cy="468.3" r="1.8"/><circle cx="315.2" cy="467.4" r="1.8"/><circle cx="315.8" cy="470.8" r="1.8"/><circle cx="316.4" cy="470.6" r="1.8"/><circle cx="317.0" cy="470.9" r="1.8"/><circle cx="317.6" cy="470.9" r="1.8"/><circle cx="318.2" cy="470.8" r="1.8"/><circle cx="318.8" cy="471.1" r="1.8"/><circle cx="319.4" cy="471.0" r="1.8"/><circle cx="320.0" cy="471.3" r="1.8"/><circle cx="320.6" cy="471.8" r="1.8"/><circle cx="321.2" cy="473.4" r="1.8"/><circle cx="321.8" cy="472.7" r="1.8"/><circle cx="322.4" cy="472.4" r="1.8"/><circle cx="323.0" cy="472.1" r="1.8"/><circle cx="323.6" cy="472.3" r="1.8"/><circle cx="324.1" cy="474.5" r="1.8"/><circle cx="324.7" cy="473.7" r="1.8"/><circle cx="325.3" cy="473.4" r="1.8"/><circle cx="325.9" cy="473.2" r="1.8"/><circle cx="326.5" cy="472.7" r="1.8"/><circle cx="327.1" cy="473.8" r="1.8"/><circle cx="327.7" cy="474.7" r="1.8"/><circle cx="328.3" cy="473.7" r="1.8"/><circle cx="328.9" cy="474.0" r="1.8"/><circle cx="329.5" cy="474.1" r="1.8"/><circle cx="330.1" cy="474.5" r="1.8"/><circle cx="330.7" cy="473.1" r="1.8"/><circle cx="331.3" cy="474.4" r="1.8"/><circle cx="331.9" cy="473.9" r="1.8"/><circle cx="332.5" cy="475.6" r="1.8"/><circle cx="333.1" cy="474.2" r="1.8"/><circle cx="333.7" cy="475.5" r="1.8"/><circle cx="334.3" cy="476.4" r="1.8"/><circle cx="334.9" cy="474.8" r="1.8"/><circle cx="335.5" cy="474.6" r="1.8"/><circle cx="336.1" cy="475.4" r="1.8"/><circle cx="336.7" cy="475.3" r="1.8"/><circle cx="337.2" cy="474.4" r="1.8"/><circle cx="337.8" cy="475.8" r="1.8"/><circle cx="338.4" cy="477.2" r="1.8"/><circle cx="339.0" cy="475.2" r="1.8"/><circle cx="339.6" cy="475.3" r="1.8"/><circle cx="340.2" cy="474.6" r="1.8"/><circle cx="340.8" cy="475.9" r="1.8"/><circle cx="341.4" cy="474.5" r="1.8"/><circle cx="342.0" cy="474.7" r="1.8"/><circle cx="342.6" cy="476.9" r="1.8"/><circle cx="343.2" cy="474.9" r="1.8"/><circle cx="343.8" cy="476.8" r="1.8"/><circle cx="344.4" cy="477.2" r="1.8"/><circle cx="345.0" cy="476.1" r="1.8"/><circle cx="345.6" cy="476.4" r="1.8"/><circle cx="346.2" cy="477.6" r="1.8"/><circle cx="346.8" cy="475.7" r="1.8"/><circle cx="347.4" cy="475.4" r="1.8"/><circle cx="348.0" cy="474.7" r="1.8"/><circle cx="348.6" cy="476.0" r="1.8"/><circle cx="349.2" cy="477.3" r="1.8"/><circle cx="349.8" cy="476.9" r="1.8"/><circle cx="350.3" cy="475.2" r="1.8"/><circle cx="350.9" cy="475.2" r="1.8"/><circle cx="351.5" cy="475.6" r="1.8"/><circle cx="352.1" cy="476.3" r="1.8"/><circle cx="352.7" cy="475.8" r="1.8"/><circle cx="353.3" cy="476.2" r="1.8"/><circle cx="353.9" cy="476.3" r="1.8"/><circle cx="354.5" cy="475.8" r="1.8"/><circle cx="355.1" cy="476.0" r="1.8"/><circle cx="355.7" cy="476.2" r="1.8"/><circle cx="356.3" cy="476.0" r="1.8"/><circle cx="356.9" cy="476.5" r="1.8"/><circle cx="357.5" cy="477.7" r="1.8"/><circle cx="358.1" cy="476.5" r="1.8"/></g>
<path d="M142.0,477.7 147.3,477.3 150.8,476.5 153.6,475.4 158.4,472.7 160.1,472.1 161.2,472.2 162.3,472.5 166.8,474.7 169.2,475.6 171.8,476.1 175.0,476.3 182.6,475.9 190.7,475.0 197.2,473.8 202.5,472.3 206.3,470.6 209.5,468.6 212.5,466.1 215.1,463.1 217.0,460.3 218.7,457.2 220.8,452.9 225.2,442.4 226.4,440.2 227.7,438.7 228.9,438.1 229.6,438.1 230.2,438.4 231.4,439.3 234.3,442.3 235.6,443.2 236.7,443.2 237.7,442.6 238.9,440.5 240.0,437.2 241.1,432.5 243.4,420.6 244.0,418.2 244.7,416.7 245.4,416.1 246.9,415.8 247.7,415.3 250.4,411.8 251.6,410.9 252.2,410.8 252.8,410.9 254.9,412.2 255.7,412.5 256.5,412.5 257.3,412.1 258.4,411.1 260.5,408.2 261.6,407.1 262.7,406.4 264.6,405.9 265.4,405.2 266.2,404.0 266.9,402.3 268.3,396.4 269.6,386.6 270.8,373.0 273.1,339.8 273.9,333.7 274.3,332.4 274.8,332.2 275.0,332.4 275.4,333.3 276.1,336.3 277.3,346.4 281.8,407.6 283.0,421.5 284.4,433.8 285.7,443.1 287.2,450.4 288.8,455.8 289.8,458.1 290.7,459.9 291.9,461.7 293.4,463.3 295.1,464.5 296.9,465.5 298.6,465.9 300.3,466.2 306.8,465.9 309.5,466.3 312.1,467.3 317.5,470.3 320.2,471.6 323.3,472.8 326.7,473.7 332.7,474.8 340.0,475.6 349.2,476.0 358.5,476.0" fill="none" stroke="#ff0a14" stroke-width="1.2" stroke-linejoin="round"/></g>
<line x1="142.0" y1="323.5" x2="142.0" y2="483.6" stroke="#333" stroke-width="1"/>
<line x1="142.0" y1="483.6" x2="358.4" y2="483.6" stroke="#000" stroke-width="1"/>
<path d="M147.4,483.6V482.0M152.8,483.6V482.0M158.2,483.6V482.0M163.7,483.6V482.0M169.1,483.6V480.8M174.5,483.6V482.0M179.9,483.6V482.0M185.3,483.6V482.0M190.7,483.6V482.0M196.1,483.6V480.8M201.5,483.6V482.0M207.0,483.6V482.0M212.4,483.6V482.0M217.8,483.6V482.0M223.2,483.6V480.8M228.6,483.6V482.0M234.0,483.6V482.0M239.4,483.6V482.0M244.8,483.6V482.0M250.3,483.6V480.8M255.7,483.6V482.0M261.1,483.6V482.0M266.5,483.6V482.0M271.9,483.6V482.0M277.3,483.6V480.8M282.7,483.6V482.0M288.2,483.6V482.0M293.6,483.6V482.0M299.0,483.6V482.0M304.4,483.6V480.8M309.8,483.6V482.0M315.2,483.6V482.0M320.6,483.6V482.0M326.0,483.6V482.0M331.5,483.6V480.8M336.9,483.6V482.0M342.3,483.6V482.0M347.7,483.6V482.0M353.1,483.6V482.0" stroke="#000" stroke-width="0.9" fill="none"/>
<text x="169.1" y="496.5" font-family="Liberation Sans" font-size="12" text-anchor="middle" fill="#1a1a1a">150</text>
<text x="196.1" y="496.5" font-family="Liberation Sans" font-size="12" text-anchor="middle" fill="#1a1a1a">200</text>
<text x="223.2" y="496.5" font-family="Liberation Sans" font-size="12" text-anchor="middle" fill="#1a1a1a">250</text>
<text x="250.3" y="496.5" font-family="Liberation Sans" font-size="12" text-anchor="middle" fill="#1a1a1a">300</text>
<text x="277.3" y="496.5" font-family="Liberation Sans" font-size="12" text-anchor="middle" fill="#1a1a1a">350</text>
<text x="304.4" y="496.5" font-family="Liberation Sans" font-size="12" text-anchor="middle" fill="#1a1a1a">400</text>
<text x="331.5" y="496.5" font-family="Liberation Sans" font-size="12" text-anchor="middle" fill="#1a1a1a">450</text>
<text x="211" y="512.6" font-family="Liberation Sans" font-size="12.2" fill="#1a1a1a">Raman shift [cm<tspan dy="-5" dx="0.4" font-size="8">-</tspan><tspan dx="1.2" font-size="8">1</tspan><tspan dy="5" dx="0.4">]</tspan></text>
<text transform="translate(136.3,440.4) rotate(-90)" font-family="Liberation Sans" font-size="12.4" fill="#1a1a1a">Intensity [arb.un.]</text>
</svg></body></html>
